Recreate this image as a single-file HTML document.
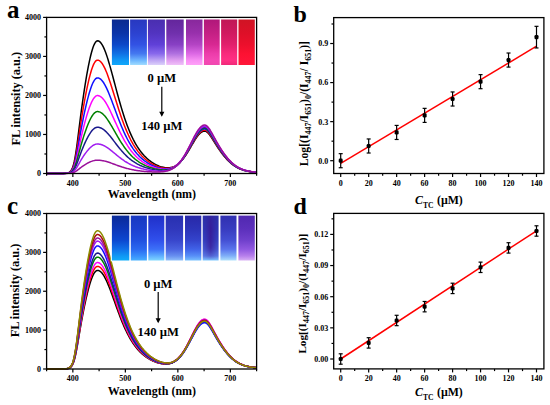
<!DOCTYPE html><html><head><meta charset="utf-8"><style>html,body{margin:0;padding:0;background:#fff}svg{display:block}text{font-family:"Liberation Serif",serif;font-weight:bold;fill:#000}</style></head><body>
<svg width="550" height="405" viewBox="0 0 550 405">
<rect width="550" height="405" fill="#fff"/>
<defs>
<linearGradient id="ga0" x1="0" y1="0" x2="0" y2="1"><stop offset="0" stop-color="#0a2a90"/><stop offset="0.3" stop-color="#0a34a8"/><stop offset="0.55" stop-color="#0c48c8"/><stop offset="0.75" stop-color="#1070e4"/><stop offset="0.9" stop-color="#1098f6"/><stop offset="1" stop-color="#10a8fa"/></linearGradient>
<linearGradient id="ga1" x1="0" y1="0" x2="0" y2="1"><stop offset="0" stop-color="#2838c0"/><stop offset="0.3" stop-color="#2c42d0"/><stop offset="0.55" stop-color="#3252e4"/><stop offset="0.75" stop-color="#4478f0"/><stop offset="0.9" stop-color="#70b8ff"/><stop offset="1" stop-color="#a0dcff"/></linearGradient>
<linearGradient id="ga2" x1="0" y1="0" x2="0" y2="1"><stop offset="0" stop-color="#4a2eb0"/><stop offset="0.3" stop-color="#5234c0"/><stop offset="0.55" stop-color="#6040d8"/><stop offset="0.75" stop-color="#8868ec"/><stop offset="0.9" stop-color="#c0a8f4"/><stop offset="1" stop-color="#dcd0fa"/></linearGradient>
<linearGradient id="ga3" x1="0" y1="0" x2="0" y2="1"><stop offset="0" stop-color="#64269c"/><stop offset="0.3" stop-color="#7030ac"/><stop offset="0.55" stop-color="#8840c4"/><stop offset="0.75" stop-color="#b070e0"/><stop offset="0.9" stop-color="#e0a0f0"/><stop offset="1" stop-color="#f0c0f8"/></linearGradient>
<linearGradient id="ga4" x1="0" y1="0" x2="0" y2="1"><stop offset="0" stop-color="#88289c"/><stop offset="0.3" stop-color="#9830ac"/><stop offset="0.55" stop-color="#b444c4"/><stop offset="0.75" stop-color="#dc68e4"/><stop offset="0.9" stop-color="#f890f4"/><stop offset="1" stop-color="#ffa0f8"/></linearGradient>
<linearGradient id="ga5" x1="0" y1="0" x2="0" y2="1"><stop offset="0" stop-color="#b0187a"/><stop offset="0.3" stop-color="#c42084"/><stop offset="0.55" stop-color="#d82892"/><stop offset="0.75" stop-color="#ec3caa"/><stop offset="0.9" stop-color="#f448b4"/><stop offset="1" stop-color="#f048b0"/></linearGradient>
<linearGradient id="ga6" x1="0" y1="0" x2="0" y2="1"><stop offset="0" stop-color="#c01856"/><stop offset="0.3" stop-color="#d01a60"/><stop offset="0.55" stop-color="#e2206c"/><stop offset="0.75" stop-color="#f82a7c"/><stop offset="0.9" stop-color="#ff3084"/><stop offset="1" stop-color="#f02878"/></linearGradient>
<linearGradient id="ga7" x1="0" y1="0" x2="0" y2="1"><stop offset="0" stop-color="#d01424"/><stop offset="0.3" stop-color="#de1028"/><stop offset="0.55" stop-color="#ec102c"/><stop offset="0.75" stop-color="#fc1232"/><stop offset="0.9" stop-color="#ff1438"/><stop offset="1" stop-color="#ff1838"/></linearGradient>
<linearGradient id="gc0" x1="0" y1="0" x2="0" y2="1"><stop offset="0" stop-color="#0a2a98"/><stop offset="0.3" stop-color="#0c36b8"/><stop offset="0.55" stop-color="#0c48d0"/><stop offset="0.75" stop-color="#1070e8"/><stop offset="0.9" stop-color="#1098f4"/><stop offset="1" stop-color="#10acfa"/></linearGradient>
<linearGradient id="gc1" x1="0" y1="0" x2="0" y2="1"><stop offset="0" stop-color="#1838c0"/><stop offset="0.3" stop-color="#1c40d0"/><stop offset="0.55" stop-color="#2050e0"/><stop offset="0.75" stop-color="#2a68f0"/><stop offset="0.9" stop-color="#3890fc"/><stop offset="1" stop-color="#48b0ff"/></linearGradient>
<linearGradient id="gc2" x1="0" y1="0" x2="0" y2="1"><stop offset="0" stop-color="#2030c8"/><stop offset="0.3" stop-color="#2840dc"/><stop offset="0.55" stop-color="#3050ec"/><stop offset="0.75" stop-color="#3c70f8"/><stop offset="0.9" stop-color="#60b0ff"/><stop offset="1" stop-color="#80d8ff"/></linearGradient>
<linearGradient id="gc3" x1="0" y1="0" x2="0" y2="1"><stop offset="0" stop-color="#2830b0"/><stop offset="0.3" stop-color="#3038bc"/><stop offset="0.55" stop-color="#3846cc"/><stop offset="0.75" stop-color="#4a62e0"/><stop offset="0.9" stop-color="#6890f0"/><stop offset="1" stop-color="#90c0fa"/></linearGradient>
<linearGradient id="gc4" x1="0" y1="0" x2="0" y2="1"><stop offset="0" stop-color="#2828a8"/><stop offset="0.3" stop-color="#2c34b8"/><stop offset="0.55" stop-color="#3444cc"/><stop offset="0.75" stop-color="#4062e8"/><stop offset="0.9" stop-color="#5890f8"/><stop offset="1" stop-color="#78c0ff"/></linearGradient>
<linearGradient id="gc5" x1="0" y1="0" x2="0" y2="1"><stop offset="0" stop-color="#2c30a8"/><stop offset="0.3" stop-color="#2e36b4"/><stop offset="0.55" stop-color="#3440c0"/><stop offset="0.75" stop-color="#4456d0"/><stop offset="0.9" stop-color="#5a78e4"/><stop offset="1" stop-color="#80c8ff"/></linearGradient>
<linearGradient id="gc6" x1="0" y1="0" x2="0" y2="1"><stop offset="0" stop-color="#3030b0"/><stop offset="0.3" stop-color="#383cc0"/><stop offset="0.55" stop-color="#4450d4"/><stop offset="0.75" stop-color="#5a74ec"/><stop offset="0.9" stop-color="#80b0f8"/><stop offset="1" stop-color="#b0e0fc"/></linearGradient>
<linearGradient id="gc7" x1="0" y1="0" x2="0" y2="1"><stop offset="0" stop-color="#5028b0"/><stop offset="0.3" stop-color="#5c30bc"/><stop offset="0.55" stop-color="#7040cc"/><stop offset="0.75" stop-color="#9058e0"/><stop offset="0.9" stop-color="#b880ec"/><stop offset="1" stop-color="#d8b0f4"/></linearGradient>
<linearGradient id="stripe" x1="0" y1="0" x2="1" y2="0"><stop offset="0" stop-color="#3a1a98" stop-opacity="0"/><stop offset="0.5" stop-color="#3a1490" stop-opacity="0.75"/><stop offset="1" stop-color="#3a1a98" stop-opacity="0"/></linearGradient>
<linearGradient id="vfade" x1="0" y1="0" x2="0" y2="1"><stop offset="0" stop-color="#fff" stop-opacity="0.6"/><stop offset="0.3" stop-color="#fff" stop-opacity="1"/><stop offset="0.7" stop-color="#fff" stop-opacity="0.9"/><stop offset="1" stop-color="#fff" stop-opacity="0"/></linearGradient>
</defs>
<path d="M46.6,173.45 L47.39,173.45 L48.18,173.45 L48.96,173.45 L49.75,173.45 L50.54,173.45 L51.33,173.45 L52.11,173.44 L52.9,173.44 L53.69,173.44 L54.48,173.44 L55.26,173.44 L56.05,173.44 L56.84,173.44 L57.62,173.44 L58.41,173.44 L59.2,173.44 L59.99,173.43 L60.78,173.43 L61.56,173.42 L62.35,173.41 L63.14,173.4 L63.92,173.37 L64.71,173.34 L65.5,173.29 L66.29,173.2 L67.08,173.08 L67.86,172.89 L68.65,172.6 L69.44,172.17 L70.22,171.54 L71.01,170.62 L71.8,169.32 L72.59,167.53 L73.38,165.12 L74.16,162 L74.95,158.11 L75.74,153.47 L76.53,148.16 L77.31,142.34 L78.1,136.19 L78.89,129.9 L79.68,123.6 L80.46,117.42 L81.25,111.4 L82.04,105.59 L82.83,99.98 L83.61,94.58 L84.4,89.38 L85.19,84.39 L85.97,79.59 L86.76,74.99 L87.55,70.61 L88.34,66.45 L89.12,62.54 L89.91,58.89 L90.7,55.52 L91.49,52.45 L92.28,49.7 L93.06,47.29 L93.85,45.24 L94.64,43.57 L95.43,42.28 L96.21,41.39 L97,40.91 L97.79,40.83 L98.58,41.02 L99.36,41.45 L100.15,42.11 L100.94,42.99 L101.72,44.09 L102.51,45.41 L103.3,46.92 L104.09,48.63 L104.88,50.52 L105.66,52.57 L106.45,54.78 L107.24,57.13 L108.03,59.6 L108.81,62.19 L109.6,64.87 L110.39,67.64 L111.18,70.47 L111.96,73.36 L112.75,76.28 L113.54,79.24 L114.33,82.2 L115.11,85.17 L115.9,88.14 L116.69,91.08 L117.47,94 L118.26,96.88 L119.05,99.72 L119.84,102.5 L120.62,105.24 L121.41,107.91 L122.2,110.52 L122.99,113.05 L123.78,115.52 L124.56,117.92 L125.35,120.24 L126.14,122.49 L126.93,124.66 L127.71,126.75 L128.5,128.77 L129.29,130.72 L130.08,132.59 L130.86,134.39 L131.65,136.11 L132.44,137.77 L133.22,139.37 L134.01,140.89 L134.8,142.35 L135.59,143.76 L136.38,145.1 L137.16,146.38 L137.95,147.61 L138.74,148.79 L139.53,149.91 L140.31,150.99 L141.1,152.02 L141.89,153 L142.68,153.94 L143.46,154.84 L144.25,155.7 L145.04,156.52 L145.83,157.31 L146.61,158.06 L147.4,158.77 L148.19,159.45 L148.97,160.1 L149.76,160.72 L150.55,161.31 L151.34,161.88 L152.12,162.41 L152.91,162.92 L153.7,163.4 L154.49,163.86 L155.28,164.29 L156.06,164.7 L156.85,165.08 L157.64,165.44 L158.43,165.78 L159.21,166.09 L160,166.38 L160.79,166.64 L161.58,166.88 L162.36,167.1 L163.15,167.28 L163.94,167.45 L164.72,167.58 L165.51,167.68 L166.3,167.76 L167.09,167.8 L167.88,167.81 L168.66,167.78 L169.45,167.71 L170.24,167.61 L171.03,167.47 L171.81,167.28 L172.6,167.05 L173.39,166.77 L174.18,166.45 L174.96,166.07 L175.75,165.64 L176.54,165.15 L177.32,164.61 L178.11,164.01 L178.9,163.35 L179.69,162.63 L180.47,161.85 L181.26,161.02 L182.05,160.12 L182.84,159.16 L183.62,158.15 L184.41,157.09 L185.2,155.97 L185.99,154.81 L186.78,153.6 L187.56,152.35 L188.35,151.07 L189.14,149.76 L189.93,148.43 L190.71,147.08 L191.5,145.73 L192.29,144.39 L193.07,143.05 L193.86,141.74 L194.65,140.45 L195.44,139.21 L196.22,138.02 L197.01,136.89 L197.8,135.84 L198.59,134.86 L199.38,133.99 L200.16,133.21 L200.95,132.54 L201.74,132 L202.53,131.58 L203.31,131.29 L204.1,131.14 L204.89,131.13 L205.68,131.32 L206.46,131.7 L207.25,132.28 L208.04,133.01 L208.82,133.9 L209.61,134.89 L210.4,135.99 L211.19,137.15 L211.97,138.35 L212.76,139.59 L213.55,140.85 L214.34,142.11 L215.12,143.36 L215.91,144.61 L216.7,145.83 L217.49,147.04 L218.28,148.22 L219.06,149.38 L219.85,150.52 L220.64,151.62 L221.43,152.7 L222.21,153.74 L223,154.76 L223.79,155.75 L224.57,156.7 L225.36,157.62 L226.15,158.51 L226.94,159.37 L227.72,160.19 L228.51,160.98 L229.3,161.74 L230.09,162.47 L230.88,163.16 L231.66,163.82 L232.45,164.44 L233.24,165.04 L234.03,165.6 L234.81,166.13 L235.6,166.63 L236.39,167.1 L237.18,167.55 L237.96,167.96 L238.75,168.35 L239.54,168.72 L240.32,169.05 L241.11,169.37 L241.9,169.66 L242.69,169.93 L243.47,170.19 L244.26,170.42 L245.05,170.63 L245.84,170.83 L246.62,171.01 L247.41,171.18 L248.2,171.33 L248.99,171.47 L249.78,171.6 L250.56,171.72 L251.35,171.83 L252.14,171.93 L252.93,172.02 L253.71,172.1 L254.5,172.18 L255.29,172.25 L256.08,172.31" fill="none" stroke="#000000" stroke-width="1.5" stroke-linejoin="round"/>
<path d="M46.6,173.45 L47.39,173.45 L48.18,173.45 L48.96,173.45 L49.75,173.45 L50.54,173.44 L51.33,173.44 L52.11,173.44 L52.9,173.44 L53.69,173.44 L54.48,173.44 L55.26,173.44 L56.05,173.44 L56.84,173.44 L57.62,173.44 L58.41,173.44 L59.2,173.43 L59.99,173.43 L60.78,173.43 L61.56,173.42 L62.35,173.41 L63.14,173.4 L63.92,173.38 L64.71,173.35 L65.5,173.31 L66.29,173.24 L67.08,173.13 L67.86,172.96 L68.65,172.72 L69.44,172.35 L70.22,171.81 L71.01,171.03 L71.8,169.92 L72.59,168.39 L73.38,166.33 L74.16,163.67 L74.95,160.34 L75.74,156.38 L76.53,151.84 L77.31,146.87 L78.1,141.62 L78.89,136.24 L79.68,130.86 L80.46,125.58 L81.25,120.44 L82.04,115.47 L82.83,110.68 L83.61,106.07 L84.4,101.63 L85.19,97.36 L85.97,93.26 L86.76,89.33 L87.55,85.59 L88.34,82.04 L89.12,78.69 L89.91,75.57 L90.7,72.69 L91.49,70.07 L92.28,67.72 L93.06,65.67 L93.85,63.92 L94.64,62.49 L95.43,61.39 L96.21,60.63 L97,60.21 L97.79,60.14 L98.58,60.31 L99.36,60.67 L100.15,61.24 L100.94,61.99 L101.72,62.93 L102.51,64.05 L103.3,65.35 L104.09,66.81 L104.88,68.42 L105.66,70.17 L106.45,72.06 L107.24,74.07 L108.03,76.18 L108.81,78.39 L109.6,80.68 L110.39,83.04 L111.18,85.46 L111.96,87.93 L112.75,90.43 L113.54,92.95 L114.33,95.48 L115.11,98.02 L115.9,100.55 L116.69,103.06 L117.47,105.56 L118.26,108.02 L119.05,110.44 L119.84,112.82 L120.62,115.15 L121.41,117.44 L122.2,119.66 L122.99,121.83 L123.78,123.94 L124.56,125.99 L125.35,127.97 L126.14,129.89 L126.93,131.74 L127.71,133.53 L128.5,135.25 L129.29,136.91 L130.08,138.51 L130.86,140.05 L131.65,141.52 L132.44,142.94 L133.22,144.3 L134.01,145.6 L134.8,146.85 L135.59,148.05 L136.38,149.19 L137.16,150.29 L137.95,151.34 L138.74,152.34 L139.53,153.3 L140.31,154.22 L141.1,155.1 L141.89,155.94 L142.68,156.74 L143.46,157.51 L144.25,158.24 L145.04,158.94 L145.83,159.61 L146.61,160.24 L147.4,160.85 L148.19,161.43 L148.97,161.99 L149.76,162.51 L150.55,163.02 L151.34,163.49 L152.12,163.95 L152.91,164.38 L153.7,164.79 L154.49,165.17 L155.28,165.54 L156.06,165.88 L156.85,166.2 L157.64,166.5 L158.43,166.78 L159.21,167.04 L160,167.27 L160.79,167.49 L161.58,167.68 L162.36,167.85 L163.15,167.99 L163.94,168.11 L164.72,168.2 L165.51,168.26 L166.3,168.3 L167.09,168.3 L167.88,168.28 L168.66,168.21 L169.45,168.12 L170.24,167.98 L171.03,167.8 L171.81,167.59 L172.6,167.32 L173.39,167.01 L174.18,166.66 L174.96,166.25 L175.75,165.78 L176.54,165.27 L177.32,164.69 L178.11,164.06 L178.9,163.37 L179.69,162.62 L180.47,161.81 L181.26,160.94 L182.05,160.01 L182.84,159.02 L183.62,157.97 L184.41,156.87 L185.2,155.72 L185.99,154.52 L186.78,153.27 L187.56,151.99 L188.35,150.67 L189.14,149.32 L189.93,147.95 L190.71,146.57 L191.5,145.19 L192.29,143.8 L193.07,142.43 L193.86,141.08 L194.65,139.77 L195.44,138.49 L196.22,137.27 L197.01,136.11 L197.8,135.03 L198.59,134.03 L199.38,133.13 L200.16,132.33 L200.95,131.65 L201.74,131.09 L202.53,130.66 L203.31,130.36 L204.1,130.21 L204.89,130.2 L205.68,130.38 L206.46,130.78 L207.25,131.36 L208.04,132.11 L208.82,133.01 L209.61,134.03 L210.4,135.15 L211.19,136.33 L211.97,137.57 L212.76,138.83 L213.55,140.12 L214.34,141.4 L215.12,142.69 L215.91,143.96 L216.7,145.21 L217.49,146.45 L218.28,147.66 L219.06,148.84 L219.85,150 L220.64,151.13 L221.43,152.23 L222.21,153.3 L223,154.34 L223.79,155.35 L224.57,156.32 L225.36,157.27 L226.15,158.17 L226.94,159.05 L227.72,159.89 L228.51,160.7 L229.3,161.48 L230.09,162.22 L230.88,162.93 L231.66,163.6 L232.45,164.24 L233.24,164.85 L234.03,165.42 L234.81,165.97 L235.6,166.48 L236.39,166.96 L237.18,167.41 L237.96,167.84 L238.75,168.24 L239.54,168.61 L240.32,168.95 L241.11,169.28 L241.9,169.58 L242.69,169.85 L243.47,170.11 L244.26,170.35 L245.05,170.57 L245.84,170.77 L246.62,170.96 L247.41,171.13 L248.2,171.28 L248.99,171.43 L249.78,171.56 L250.56,171.68 L251.35,171.79 L252.14,171.89 L252.93,171.99 L253.71,172.07 L254.5,172.15 L255.29,172.22 L256.08,172.29" fill="none" stroke="#ff0000" stroke-width="1.5" stroke-linejoin="round"/>
<path d="M46.6,173.45 L47.39,173.45 L48.18,173.45 L48.96,173.44 L49.75,173.44 L50.54,173.44 L51.33,173.44 L52.11,173.44 L52.9,173.44 L53.69,173.44 L54.48,173.44 L55.26,173.44 L56.05,173.44 L56.84,173.44 L57.62,173.44 L58.41,173.44 L59.2,173.43 L59.99,173.43 L60.78,173.43 L61.56,173.42 L62.35,173.42 L63.14,173.41 L63.92,173.39 L64.71,173.36 L65.5,173.32 L66.29,173.26 L67.08,173.17 L67.86,173.03 L68.65,172.83 L69.44,172.52 L70.22,172.06 L71.01,171.4 L71.8,170.47 L72.59,169.18 L73.38,167.44 L74.16,165.19 L74.95,162.39 L75.74,159.05 L76.53,155.22 L77.31,151.03 L78.1,146.6 L78.89,142.07 L79.68,137.53 L80.46,133.08 L81.25,128.74 L82.04,124.55 L82.83,120.51 L83.61,116.62 L84.4,112.88 L85.19,109.28 L85.97,105.82 L86.76,102.51 L87.55,99.36 L88.34,96.36 L89.12,93.54 L89.91,90.91 L90.7,88.48 L91.49,86.27 L92.28,84.29 L93.06,82.56 L93.85,81.08 L94.64,79.87 L95.43,78.95 L96.21,78.31 L97,77.96 L97.79,77.9 L98.58,78.04 L99.36,78.34 L100.15,78.82 L100.94,79.45 L101.72,80.25 L102.51,81.19 L103.3,82.28 L104.09,83.51 L104.88,84.87 L105.66,86.35 L106.45,87.94 L107.24,89.63 L108.03,91.42 L108.81,93.28 L109.6,95.21 L110.39,97.2 L111.18,99.24 L111.96,101.32 L112.75,103.43 L113.54,105.55 L114.33,107.69 L115.11,109.83 L115.9,111.96 L116.69,114.08 L117.47,116.18 L118.26,118.25 L119.05,120.3 L119.84,122.3 L120.62,124.27 L121.41,126.19 L122.2,128.07 L122.99,129.9 L123.78,131.68 L124.56,133.4 L125.35,135.07 L126.14,136.69 L126.93,138.25 L127.71,139.76 L128.5,141.21 L129.29,142.61 L130.08,143.96 L130.86,145.25 L131.65,146.49 L132.44,147.69 L133.22,148.83 L134.01,149.93 L134.8,150.98 L135.59,151.99 L136.38,152.95 L137.16,153.88 L137.95,154.76 L138.74,155.61 L139.53,156.42 L140.31,157.19 L141.1,157.93 L141.89,158.63 L142.68,159.31 L143.46,159.95 L144.25,160.57 L145.04,161.16 L145.83,161.72 L146.61,162.25 L147.4,162.76 L148.19,163.25 L148.97,163.72 L149.76,164.16 L150.55,164.58 L151.34,164.98 L152.12,165.36 L152.91,165.72 L153.7,166.06 L154.49,166.38 L155.28,166.68 L156.06,166.96 L156.85,167.22 L157.64,167.47 L158.43,167.7 L159.21,167.9 L160,168.09 L160.79,168.26 L161.58,168.4 L162.36,168.53 L163.15,168.63 L163.94,168.71 L164.72,168.76 L165.51,168.79 L166.3,168.79 L167.09,168.76 L167.88,168.69 L168.66,168.6 L169.45,168.47 L170.24,168.3 L171.03,168.09 L171.81,167.84 L172.6,167.55 L173.39,167.2 L174.18,166.81 L174.96,166.37 L175.75,165.88 L176.54,165.33 L177.32,164.72 L178.11,164.05 L178.9,163.33 L179.69,162.54 L180.47,161.7 L181.26,160.79 L182.05,159.82 L182.84,158.79 L183.62,157.7 L184.41,156.56 L185.2,155.37 L185.99,154.12 L186.78,152.84 L187.56,151.51 L188.35,150.14 L189.14,148.75 L189.93,147.34 L190.71,145.92 L191.5,144.49 L192.29,143.06 L193.07,141.64 L193.86,140.25 L194.65,138.9 L195.44,137.58 L196.22,136.32 L197.01,135.13 L197.8,134.01 L198.59,132.99 L199.38,132.05 L200.16,131.23 L200.95,130.53 L201.74,129.95 L202.53,129.51 L203.31,129.2 L204.1,129.04 L204.89,129.03 L205.68,129.22 L206.46,129.62 L207.25,130.22 L208.04,130.99 L208.82,131.91 L209.61,132.96 L210.4,134.1 L211.19,135.32 L211.97,136.59 L212.76,137.89 L213.55,139.21 L214.34,140.53 L215.12,141.85 L215.91,143.15 L216.7,144.44 L217.49,145.71 L218.28,146.95 L219.06,148.17 L219.85,149.36 L220.64,150.52 L221.43,151.65 L222.21,152.75 L223,153.82 L223.79,154.85 L224.57,155.85 L225.36,156.82 L226.15,157.76 L226.94,158.66 L227.72,159.52 L228.51,160.35 L229.3,161.15 L230.09,161.91 L230.88,162.64 L231.66,163.33 L232.45,163.99 L233.24,164.61 L234.03,165.2 L234.81,165.76 L235.6,166.29 L236.39,166.78 L237.18,167.25 L237.96,167.68 L238.75,168.09 L239.54,168.47 L240.32,168.83 L241.11,169.16 L241.9,169.47 L242.69,169.75 L243.47,170.02 L244.26,170.26 L245.05,170.49 L245.84,170.7 L246.62,170.89 L247.41,171.06 L248.2,171.22 L248.99,171.37 L249.78,171.51 L250.56,171.63 L251.35,171.75 L252.14,171.85 L252.93,171.95 L253.71,172.03 L254.5,172.11 L255.29,172.19 L256.08,172.25" fill="none" stroke="#1010ff" stroke-width="1.5" stroke-linejoin="round"/>
<path d="M46.6,173.44 L47.39,173.44 L48.18,173.44 L48.96,173.44 L49.75,173.44 L50.54,173.44 L51.33,173.44 L52.11,173.44 L52.9,173.44 L53.69,173.44 L54.48,173.44 L55.26,173.44 L56.05,173.43 L56.84,173.43 L57.62,173.43 L58.41,173.43 L59.2,173.43 L59.99,173.43 L60.78,173.42 L61.56,173.42 L62.35,173.41 L63.14,173.41 L63.92,173.39 L64.71,173.37 L65.5,173.34 L66.29,173.29 L67.08,173.22 L67.86,173.1 L68.65,172.93 L69.44,172.68 L70.22,172.31 L71.01,171.77 L71.8,171.01 L72.59,169.96 L73.38,168.54 L74.16,166.71 L74.95,164.43 L75.74,161.7 L76.53,158.59 L77.31,155.17 L78.1,151.56 L78.89,147.87 L79.68,144.17 L80.46,140.54 L81.25,137.01 L82.04,133.6 L82.83,130.3 L83.61,127.14 L84.4,124.08 L85.19,121.15 L85.97,118.33 L86.76,115.64 L87.55,113.06 L88.34,110.62 L89.12,108.33 L89.91,106.18 L90.7,104.2 L91.49,102.4 L92.28,100.79 L93.06,99.37 L93.85,98.17 L94.64,97.19 L95.43,96.43 L96.21,95.91 L97,95.62 L97.79,95.57 L98.58,95.69 L99.36,95.94 L100.15,96.32 L100.94,96.84 L101.72,97.49 L102.51,98.26 L103.3,99.14 L104.09,100.15 L104.88,101.25 L105.66,102.46 L106.45,103.75 L107.24,105.13 L108.03,106.58 L108.81,108.1 L109.6,109.67 L110.39,111.29 L111.18,112.95 L111.96,114.65 L112.75,116.36 L113.54,118.1 L114.33,119.84 L115.11,121.58 L115.9,123.31 L116.69,125.04 L117.47,126.75 L118.26,128.44 L119.05,130.1 L119.84,131.74 L120.62,133.34 L121.41,134.91 L122.2,136.44 L122.99,137.92 L123.78,139.37 L124.56,140.77 L125.35,142.13 L126.14,143.45 L126.93,144.72 L127.71,145.95 L128.5,147.13 L129.29,148.27 L130.08,149.37 L130.86,150.42 L131.65,151.43 L132.44,152.4 L133.22,153.34 L134.01,154.23 L134.8,155.08 L135.59,155.9 L136.38,156.69 L137.16,157.44 L137.95,158.16 L138.74,158.84 L139.53,159.5 L140.31,160.13 L141.1,160.73 L141.89,161.3 L142.68,161.85 L143.46,162.37 L144.25,162.87 L145.04,163.35 L145.83,163.8 L146.61,164.24 L147.4,164.65 L148.19,165.04 L148.97,165.42 L149.76,165.77 L150.55,166.11 L151.34,166.43 L152.12,166.74 L152.91,167.02 L153.7,167.29 L154.49,167.55 L155.28,167.79 L156.06,168.01 L156.85,168.21 L157.64,168.4 L158.43,168.57 L159.21,168.73 L160,168.86 L160.79,168.98 L161.58,169.08 L162.36,169.16 L163.15,169.21 L163.94,169.25 L164.72,169.25 L165.51,169.24 L166.3,169.19 L167.09,169.12 L167.88,169.01 L168.66,168.87 L169.45,168.69 L170.24,168.48 L171.03,168.22 L171.81,167.93 L172.6,167.58 L173.39,167.19 L174.18,166.74 L174.96,166.25 L175.75,165.69 L176.54,165.08 L177.32,164.41 L178.11,163.68 L178.9,162.88 L179.69,162.03 L180.47,161.1 L181.26,160.11 L182.05,159.06 L182.84,157.95 L183.62,156.77 L184.41,155.54 L185.2,154.25 L185.99,152.9 L186.78,151.51 L187.56,150.08 L188.35,148.61 L189.14,147.12 L189.93,145.6 L190.71,144.06 L191.5,142.52 L192.29,140.99 L193.07,139.47 L193.86,137.97 L194.65,136.52 L195.44,135.1 L196.22,133.75 L197.01,132.47 L197.8,131.27 L198.59,130.17 L199.38,129.17 L200.16,128.28 L200.95,127.53 L201.74,126.9 L202.53,126.43 L203.31,126.1 L204.1,125.92 L204.89,125.9 L205.68,126.11 L206.46,126.53 L207.25,127.17 L208.04,128 L208.82,128.99 L209.61,130.11 L210.4,131.33 L211.19,132.63 L211.97,133.99 L212.76,135.38 L213.55,136.79 L214.34,138.21 L215.12,139.62 L215.91,141.01 L216.7,142.39 L217.49,143.75 L218.28,145.08 L219.06,146.38 L219.85,147.66 L220.64,148.9 L221.43,150.11 L222.21,151.28 L223,152.43 L223.79,153.53 L224.57,154.61 L225.36,155.64 L226.15,156.64 L226.94,157.61 L227.72,158.53 L228.51,159.42 L229.3,160.28 L230.09,161.09 L230.88,161.87 L231.66,162.61 L232.45,163.31 L233.24,163.98 L234.03,164.61 L234.81,165.21 L235.6,165.78 L236.39,166.31 L237.18,166.81 L237.96,167.27 L238.75,167.71 L239.54,168.12 L240.32,168.5 L241.11,168.85 L241.9,169.18 L242.69,169.49 L243.47,169.77 L244.26,170.03 L245.05,170.27 L245.84,170.5 L246.62,170.7 L247.41,170.89 L248.2,171.06 L248.99,171.22 L249.78,171.37 L250.56,171.5 L251.35,171.62 L252.14,171.73 L252.93,171.84 L253.71,171.93 L254.5,172.01 L255.29,172.09 L256.08,172.16" fill="none" stroke="#ff00ff" stroke-width="1.5" stroke-linejoin="round"/>
<path d="M46.6,173.45 L47.39,173.44 L48.18,173.44 L48.96,173.44 L49.75,173.44 L50.54,173.44 L51.33,173.44 L52.11,173.44 L52.9,173.44 L53.69,173.44 L54.48,173.44 L55.26,173.44 L56.05,173.44 L56.84,173.44 L57.62,173.44 L58.41,173.43 L59.2,173.43 L59.99,173.43 L60.78,173.43 L61.56,173.43 L62.35,173.42 L63.14,173.41 L63.92,173.4 L64.71,173.39 L65.5,173.36 L66.29,173.32 L67.08,173.26 L67.86,173.17 L68.65,173.04 L69.44,172.84 L70.22,172.54 L71.01,172.11 L71.8,171.51 L72.59,170.67 L73.38,169.55 L74.16,168.09 L74.95,166.28 L75.74,164.12 L76.53,161.64 L77.31,158.93 L78.1,156.06 L78.89,153.12 L79.68,150.19 L80.46,147.3 L81.25,144.5 L82.04,141.78 L82.83,139.17 L83.61,136.65 L84.4,134.23 L85.19,131.9 L85.97,129.66 L86.76,127.51 L87.55,125.47 L88.34,123.53 L89.12,121.71 L89.91,120 L90.7,118.43 L91.49,117 L92.28,115.71 L93.06,114.59 L93.85,113.64 L94.64,112.85 L95.43,112.25 L96.21,111.84 L97,111.61 L97.79,111.57 L98.58,111.66 L99.36,111.86 L100.15,112.17 L100.94,112.58 L101.72,113.09 L102.51,113.7 L103.3,114.41 L104.09,115.2 L104.88,116.08 L105.66,117.04 L106.45,118.07 L107.24,119.16 L108.03,120.31 L108.81,121.52 L109.6,122.77 L110.39,124.06 L111.18,125.37 L111.96,126.72 L112.75,128.08 L113.54,129.46 L114.33,130.84 L115.11,132.22 L115.9,133.6 L116.69,134.97 L117.47,136.33 L118.26,137.67 L119.05,138.99 L119.84,140.29 L120.62,141.56 L121.41,142.81 L122.2,144.02 L122.99,145.2 L123.78,146.35 L124.56,147.47 L125.35,148.55 L126.14,149.59 L126.93,150.6 L127.71,151.58 L128.5,152.52 L129.29,153.42 L130.08,154.29 L130.86,155.13 L131.65,155.93 L132.44,156.7 L133.22,157.44 L134.01,158.15 L134.8,158.83 L135.59,159.48 L136.38,160.1 L137.16,160.69 L137.95,161.26 L138.74,161.81 L139.53,162.33 L140.31,162.83 L141.1,163.3 L141.89,163.76 L142.68,164.19 L143.46,164.6 L144.25,165 L145.04,165.38 L145.83,165.73 L146.61,166.08 L147.4,166.4 L148.19,166.71 L148.97,167.01 L149.76,167.29 L150.55,167.55 L151.34,167.81 L152.12,168.04 L152.91,168.27 L153.7,168.48 L154.49,168.68 L155.28,168.86 L156.06,169.03 L156.85,169.19 L157.64,169.33 L158.43,169.46 L159.21,169.57 L160,169.67 L160.79,169.75 L161.58,169.81 L162.36,169.86 L163.15,169.88 L163.94,169.89 L164.72,169.87 L165.51,169.83 L166.3,169.77 L167.09,169.68 L167.88,169.56 L168.66,169.41 L169.45,169.22 L170.24,169 L171.03,168.74 L171.81,168.44 L172.6,168.1 L173.39,167.71 L174.18,167.28 L174.96,166.79 L175.75,166.25 L176.54,165.66 L177.32,165.01 L178.11,164.31 L178.9,163.54 L179.69,162.72 L180.47,161.83 L181.26,160.88 L182.05,159.87 L182.84,158.81 L183.62,157.68 L184.41,156.5 L185.2,155.27 L185.99,153.99 L186.78,152.66 L187.56,151.29 L188.35,149.89 L189.14,148.46 L189.93,147.01 L190.71,145.55 L191.5,144.08 L192.29,142.62 L193.07,141.17 L193.86,139.75 L194.65,138.36 L195.44,137.01 L196.22,135.73 L197.01,134.5 L197.8,133.36 L198.59,132.31 L199.38,131.36 L200.16,130.51 L200.95,129.79 L201.74,129.2 L202.53,128.74 L203.31,128.43 L204.1,128.26 L204.89,128.25 L205.68,128.44 L206.46,128.84 L207.25,129.45 L208.04,130.23 L208.82,131.17 L209.61,132.24 L210.4,133.4 L211.19,134.64 L211.97,135.93 L212.76,137.25 L213.55,138.59 L214.34,139.94 L215.12,141.28 L215.91,142.61 L216.7,143.92 L217.49,145.21 L218.28,146.47 L219.06,147.71 L219.85,148.92 L220.64,150.1 L221.43,151.25 L222.21,152.37 L223,153.46 L223.79,154.51 L224.57,155.53 L225.36,156.52 L226.15,157.47 L226.94,158.39 L227.72,159.27 L228.51,160.11 L229.3,160.92 L230.09,161.7 L230.88,162.44 L231.66,163.14 L232.45,163.81 L233.24,164.45 L234.03,165.05 L234.81,165.62 L235.6,166.15 L236.39,166.66 L237.18,167.13 L237.96,167.58 L238.75,167.99 L239.54,168.38 L240.32,168.75 L241.11,169.08 L241.9,169.4 L242.69,169.69 L243.47,169.95 L244.26,170.2 L245.05,170.43 L245.84,170.64 L246.62,170.84 L247.41,171.02 L248.2,171.18 L248.99,171.33 L249.78,171.47 L250.56,171.6 L251.35,171.71 L252.14,171.82 L252.93,171.92 L253.71,172.01 L254.5,172.09 L255.29,172.16 L256.08,172.23" fill="none" stroke="#008000" stroke-width="1.5" stroke-linejoin="round"/>
<path d="M46.6,173.44 L47.39,173.44 L48.18,173.44 L48.96,173.44 L49.75,173.44 L50.54,173.44 L51.33,173.44 L52.11,173.44 L52.9,173.44 L53.69,173.44 L54.48,173.44 L55.26,173.44 L56.05,173.44 L56.84,173.44 L57.62,173.44 L58.41,173.43 L59.2,173.43 L59.99,173.43 L60.78,173.43 L61.56,173.43 L62.35,173.42 L63.14,173.42 L63.92,173.41 L64.71,173.4 L65.5,173.38 L66.29,173.35 L67.08,173.3 L67.86,173.24 L68.65,173.13 L69.44,172.98 L70.22,172.76 L71.01,172.45 L71.8,171.99 L72.59,171.37 L73.38,170.53 L74.16,169.44 L74.95,168.09 L75.74,166.48 L76.53,164.63 L77.31,162.6 L78.1,160.46 L78.89,158.27 L79.68,156.08 L80.46,153.93 L81.25,151.83 L82.04,149.81 L82.83,147.86 L83.61,145.98 L84.4,144.17 L85.19,142.43 L85.97,140.76 L86.76,139.16 L87.55,137.63 L88.34,136.19 L89.12,134.83 L89.91,133.55 L90.7,132.38 L91.49,131.31 L92.28,130.35 L93.06,129.51 L93.85,128.8 L94.64,128.22 L95.43,127.77 L96.21,127.46 L97,127.29 L97.79,127.26 L98.58,127.33 L99.36,127.47 L100.15,127.7 L100.94,128.01 L101.72,128.39 L102.51,128.84 L103.3,129.37 L104.09,129.96 L104.88,130.62 L105.66,131.33 L106.45,132.1 L107.24,132.91 L108.03,133.77 L108.81,134.67 L109.6,135.6 L110.39,136.56 L111.18,137.55 L111.96,138.55 L112.75,139.57 L113.54,140.59 L114.33,141.62 L115.11,142.65 L115.9,143.68 L116.69,144.71 L117.47,145.72 L118.26,146.72 L119.05,147.7 L119.84,148.67 L120.62,149.62 L121.41,150.55 L122.2,151.45 L122.99,152.33 L123.78,153.19 L124.56,154.02 L125.35,154.82 L126.14,155.6 L126.93,156.35 L127.71,157.08 L128.5,157.78 L129.29,158.45 L130.08,159.1 L130.86,159.72 L131.65,160.32 L132.44,160.89 L133.22,161.44 L134.01,161.97 L134.8,162.48 L135.59,162.96 L136.38,163.42 L137.16,163.87 L137.95,164.29 L138.74,164.69 L139.53,165.08 L140.31,165.45 L141.1,165.8 L141.89,166.14 L142.68,166.46 L143.46,166.77 L144.25,167.06 L145.04,167.34 L145.83,167.6 L146.61,167.85 L147.4,168.09 L148.19,168.32 L148.97,168.54 L149.76,168.74 L150.55,168.94 L151.34,169.12 L152.12,169.29 L152.91,169.45 L153.7,169.6 L154.49,169.74 L155.28,169.87 L156.06,169.99 L156.85,170.09 L157.64,170.19 L158.43,170.27 L159.21,170.34 L160,170.39 L160.79,170.43 L161.58,170.46 L162.36,170.47 L163.15,170.46 L163.94,170.43 L164.72,170.38 L165.51,170.31 L166.3,170.21 L167.09,170.09 L167.88,169.94 L168.66,169.76 L169.45,169.55 L170.24,169.3 L171.03,169.01 L171.81,168.69 L172.6,168.32 L173.39,167.91 L174.18,167.45 L174.96,166.93 L175.75,166.37 L176.54,165.75 L177.32,165.08 L178.11,164.35 L178.9,163.56 L179.69,162.7 L180.47,161.79 L181.26,160.81 L182.05,159.78 L182.84,158.68 L183.62,157.53 L184.41,156.32 L185.2,155.06 L185.99,153.75 L186.78,152.39 L187.56,150.99 L188.35,149.56 L189.14,148.1 L189.93,146.62 L190.71,145.13 L191.5,143.63 L192.29,142.14 L193.07,140.66 L193.86,139.2 L194.65,137.79 L195.44,136.41 L196.22,135.1 L197.01,133.85 L197.8,132.69 L198.59,131.61 L199.38,130.64 L200.16,129.78 L200.95,129.05 L201.74,128.44 L202.53,127.98 L203.31,127.65 L204.1,127.48 L204.89,127.46 L205.68,127.66 L206.46,128.07 L207.25,128.69 L208.04,129.48 L208.82,130.44 L209.61,131.52 L210.4,132.7 L211.19,133.96 L211.97,135.27 L212.76,136.62 L213.55,137.98 L214.34,139.35 L215.12,140.71 L215.91,142.07 L216.7,143.4 L217.49,144.71 L218.28,146 L219.06,147.26 L219.85,148.49 L220.64,149.69 L221.43,150.87 L222.21,152 L223,153.11 L223.79,154.18 L224.57,155.22 L225.36,156.22 L226.15,157.19 L226.94,158.12 L227.72,159.02 L228.51,159.88 L229.3,160.7 L230.09,161.49 L230.88,162.24 L231.66,162.96 L232.45,163.64 L233.24,164.29 L234.03,164.9 L234.81,165.48 L235.6,166.03 L236.39,166.54 L237.18,167.02 L237.96,167.47 L238.75,167.9 L239.54,168.29 L240.32,168.66 L241.11,169 L241.9,169.32 L242.69,169.62 L243.47,169.89 L244.26,170.15 L245.05,170.38 L245.84,170.59 L246.62,170.79 L247.41,170.97 L248.2,171.14 L248.99,171.3 L249.78,171.44 L250.56,171.56 L251.35,171.68 L252.14,171.79 L252.93,171.89 L253.71,171.98 L254.5,172.06 L255.29,172.14 L256.08,172.21" fill="none" stroke="#1a1a8c" stroke-width="1.5" stroke-linejoin="round"/>
<path d="M46.6,173.44 L47.39,173.44 L48.18,173.44 L48.96,173.44 L49.75,173.44 L50.54,173.44 L51.33,173.44 L52.11,173.44 L52.9,173.44 L53.69,173.44 L54.48,173.44 L55.26,173.44 L56.05,173.44 L56.84,173.43 L57.62,173.43 L58.41,173.43 L59.2,173.43 L59.99,173.43 L60.78,173.43 L61.56,173.43 L62.35,173.42 L63.14,173.42 L63.92,173.41 L64.71,173.41 L65.5,173.39 L66.29,173.37 L67.08,173.35 L67.86,173.3 L68.65,173.24 L69.44,173.14 L70.22,173 L71.01,172.8 L71.8,172.51 L72.59,172.11 L73.38,171.58 L74.16,170.89 L74.95,170.02 L75.74,168.99 L76.53,167.82 L77.31,166.53 L78.1,165.16 L78.89,163.77 L79.68,162.37 L80.46,161 L81.25,159.66 L82.04,158.37 L82.83,157.13 L83.61,155.93 L84.4,154.78 L85.19,153.67 L85.97,152.61 L86.76,151.59 L87.55,150.62 L88.34,149.69 L89.12,148.83 L89.91,148.01 L90.7,147.27 L91.49,146.58 L92.28,145.97 L93.06,145.44 L93.85,144.98 L94.64,144.61 L95.43,144.33 L96.21,144.13 L97,144.02 L97.79,144 L98.58,144.04 L99.36,144.13 L100.15,144.28 L100.94,144.47 L101.72,144.72 L102.51,145.01 L103.3,145.34 L104.09,145.72 L104.88,146.13 L105.66,146.59 L106.45,147.07 L107.24,147.59 L108.03,148.14 L108.81,148.71 L109.6,149.3 L110.39,149.91 L111.18,150.54 L111.96,151.18 L112.75,151.82 L113.54,152.48 L114.33,153.13 L115.11,153.79 L115.9,154.44 L116.69,155.09 L117.47,155.73 L118.26,156.37 L119.05,157 L119.84,157.61 L120.62,158.21 L121.41,158.8 L122.2,159.38 L122.99,159.94 L123.78,160.48 L124.56,161.01 L125.35,161.52 L126.14,162.01 L126.93,162.49 L127.71,162.95 L128.5,163.4 L129.29,163.82 L130.08,164.23 L130.86,164.63 L131.65,165.01 L132.44,165.37 L133.22,165.72 L134.01,166.05 L134.8,166.37 L135.59,166.68 L136.38,166.97 L137.16,167.25 L137.95,167.52 L138.74,167.77 L139.53,168.02 L140.31,168.25 L141.1,168.47 L141.89,168.68 L142.68,168.88 L143.46,169.07 L144.25,169.26 L145.04,169.43 L145.83,169.59 L146.61,169.75 L147.4,169.9 L148.19,170.04 L148.97,170.17 L149.76,170.29 L150.55,170.41 L151.34,170.52 L152.12,170.62 L152.91,170.72 L153.7,170.8 L154.49,170.88 L155.28,170.95 L156.06,171.01 L156.85,171.06 L157.64,171.1 L158.43,171.13 L159.21,171.16 L160,171.16 L160.79,171.16 L161.58,171.14 L162.36,171.11 L163.15,171.06 L163.94,171 L164.72,170.91 L165.51,170.81 L166.3,170.68 L167.09,170.52 L167.88,170.34 L168.66,170.13 L169.45,169.88 L170.24,169.61 L171.03,169.29 L171.81,168.94 L172.6,168.54 L173.39,168.1 L174.18,167.61 L174.96,167.07 L175.75,166.48 L176.54,165.83 L177.32,165.13 L178.11,164.36 L178.9,163.54 L179.69,162.66 L180.47,161.71 L181.26,160.7 L182.05,159.64 L182.84,158.51 L183.62,157.32 L184.41,156.07 L185.2,154.78 L185.99,153.43 L186.78,152.03 L187.56,150.6 L188.35,149.13 L189.14,147.63 L189.93,146.11 L190.71,144.58 L191.5,143.05 L192.29,141.52 L193.07,140.01 L193.86,138.52 L194.65,137.06 L195.44,135.66 L196.22,134.31 L197.01,133.04 L197.8,131.84 L198.59,130.74 L199.38,129.75 L200.16,128.87 L200.95,128.11 L201.74,127.49 L202.53,127.02 L203.31,126.69 L204.1,126.51 L204.89,126.49 L205.68,126.68 L206.46,127.1 L207.25,127.73 L208.04,128.55 L208.82,129.52 L209.61,130.63 L210.4,131.83 L211.19,133.12 L211.97,134.46 L212.76,135.83 L213.55,137.22 L214.34,138.62 L215.12,140.01 L215.91,141.39 L216.7,142.76 L217.49,144.1 L218.28,145.41 L219.06,146.7 L219.85,147.96 L220.64,149.18 L221.43,150.38 L222.21,151.54 L223,152.67 L223.79,153.77 L224.57,154.83 L225.36,155.85 L226.15,156.84 L226.94,157.79 L227.72,158.71 L228.51,159.59 L229.3,160.43 L230.09,161.23 L230.88,162 L231.66,162.74 L232.45,163.43 L233.24,164.09 L234.03,164.72 L234.81,165.31 L235.6,165.87 L236.39,166.39 L237.18,166.88 L237.96,167.35 L238.75,167.78 L239.54,168.18 L240.32,168.56 L241.11,168.91 L241.9,169.23 L242.69,169.54 L243.47,169.82 L244.26,170.07 L245.05,170.31 L245.84,170.53 L246.62,170.73 L247.41,170.92 L248.2,171.09 L248.99,171.25 L249.78,171.39 L250.56,171.52 L251.35,171.64 L252.14,171.75 L252.93,171.85 L253.71,171.95 L254.5,172.03 L255.29,172.11 L256.08,172.18" fill="none" stroke="#a01cf0" stroke-width="1.5" stroke-linejoin="round"/>
<path d="M46.6,173.44 L47.39,173.44 L48.18,173.44 L48.96,173.44 L49.75,173.44 L50.54,173.44 L51.33,173.44 L52.11,173.44 L52.9,173.44 L53.69,173.44 L54.48,173.43 L55.26,173.43 L56.05,173.43 L56.84,173.43 L57.62,173.43 L58.41,173.43 L59.2,173.43 L59.99,173.43 L60.78,173.43 L61.56,173.43 L62.35,173.43 L63.14,173.42 L63.92,173.42 L64.71,173.42 L65.5,173.41 L66.29,173.4 L67.08,173.39 L67.86,173.37 L68.65,173.34 L69.44,173.29 L70.22,173.23 L71.01,173.14 L71.8,173.01 L72.59,172.83 L73.38,172.59 L74.16,172.28 L74.95,171.89 L75.74,171.43 L76.53,170.9 L77.31,170.32 L78.1,169.71 L78.89,169.08 L79.68,168.45 L80.46,167.84 L81.25,167.24 L82.04,166.66 L82.83,166.1 L83.61,165.56 L84.4,165.04 L85.19,164.55 L85.97,164.07 L86.76,163.61 L87.55,163.17 L88.34,162.76 L89.12,162.37 L89.91,162 L90.7,161.67 L91.49,161.36 L92.28,161.09 L93.06,160.85 L93.85,160.64 L94.64,160.47 L95.43,160.34 L96.21,160.25 L97,160.2 L97.79,160.19 L98.58,160.21 L99.36,160.25 L100.15,160.32 L100.94,160.4 L101.72,160.51 L102.51,160.64 L103.3,160.79 L104.09,160.95 L104.88,161.14 L105.66,161.34 L106.45,161.56 L107.24,161.79 L108.03,162.03 L108.81,162.29 L109.6,162.55 L110.39,162.83 L111.18,163.11 L111.96,163.39 L112.75,163.68 L113.54,163.97 L114.33,164.26 L115.11,164.55 L115.9,164.85 L116.69,165.14 L117.47,165.42 L118.26,165.71 L119.05,165.99 L119.84,166.26 L120.62,166.53 L121.41,166.79 L122.2,167.05 L122.99,167.29 L123.78,167.54 L124.56,167.77 L125.35,168 L126.14,168.22 L126.93,168.43 L127.71,168.63 L128.5,168.83 L129.29,169.02 L130.08,169.2 L130.86,169.37 L131.65,169.54 L132.44,169.7 L133.22,169.85 L134.01,170 L134.8,170.14 L135.59,170.27 L136.38,170.4 L137.16,170.52 L137.95,170.64 L138.74,170.75 L139.53,170.85 L140.31,170.95 L141.1,171.05 L141.89,171.14 L142.68,171.22 L143.46,171.3 L144.25,171.38 L145.04,171.45 L145.83,171.52 L146.61,171.58 L147.4,171.64 L148.19,171.69 L148.97,171.74 L149.76,171.79 L150.55,171.83 L151.34,171.87 L152.12,171.9 L152.91,171.93 L153.7,171.95 L154.49,171.97 L155.28,171.98 L156.06,171.99 L156.85,171.99 L157.64,171.98 L158.43,171.96 L159.21,171.94 L160,171.9 L160.79,171.85 L161.58,171.8 L162.36,171.72 L163.15,171.64 L163.94,171.53 L164.72,171.41 L165.51,171.27 L166.3,171.1 L167.09,170.91 L167.88,170.7 L168.66,170.45 L169.45,170.18 L170.24,169.87 L171.03,169.52 L171.81,169.13 L172.6,168.7 L173.39,168.23 L174.18,167.7 L174.96,167.13 L175.75,166.5 L176.54,165.82 L177.32,165.08 L178.11,164.28 L178.9,163.42 L179.69,162.49 L180.47,161.51 L181.26,160.46 L182.05,159.34 L182.84,158.17 L183.62,156.93 L184.41,155.64 L185.2,154.29 L185.99,152.89 L186.78,151.45 L187.56,149.96 L188.35,148.44 L189.14,146.89 L189.93,145.31 L190.71,143.73 L191.5,142.14 L192.29,140.56 L193.07,138.99 L193.86,137.45 L194.65,135.95 L195.44,134.5 L196.22,133.1 L197.01,131.78 L197.8,130.55 L198.59,129.41 L199.38,128.38 L200.16,127.47 L200.95,126.69 L201.74,126.05 L202.53,125.55 L203.31,125.21 L204.1,125.03 L204.89,125.01 L205.68,125.21 L206.46,125.64 L207.25,126.29 L208.04,127.12 L208.82,128.13 L209.61,129.27 L210.4,130.51 L211.19,131.84 L211.97,133.22 L212.76,134.64 L213.55,136.07 L214.34,137.51 L215.12,138.95 L215.91,140.37 L216.7,141.78 L217.49,143.16 L218.28,144.52 L219.06,145.85 L219.85,147.15 L220.64,148.41 L221.43,149.64 L222.21,150.84 L223,152.01 L223.79,153.14 L224.57,154.23 L225.36,155.29 L226.15,156.31 L226.94,157.29 L227.72,158.24 L228.51,159.14 L229.3,160.01 L230.09,160.84 L230.88,161.64 L231.66,162.39 L232.45,163.11 L233.24,163.79 L234.03,164.44 L234.81,165.05 L235.6,165.62 L236.39,166.16 L237.18,166.67 L237.96,167.15 L238.75,167.6 L239.54,168.01 L240.32,168.4 L241.11,168.76 L241.9,169.1 L242.69,169.41 L243.47,169.7 L244.26,169.96 L245.05,170.21 L245.84,170.44 L246.62,170.65 L247.41,170.84 L248.2,171.01 L248.99,171.18 L249.78,171.32 L250.56,171.46 L251.35,171.58 L252.14,171.7 L252.93,171.8 L253.71,171.9 L254.5,171.98 L255.29,172.06 L256.08,172.14" fill="none" stroke="#9a109a" stroke-width="1.5" stroke-linejoin="round"/>
<rect x="110.8" y="18.7" width="145" height="47.1" fill="#fff"/>
<rect x="111.9" y="19.5" width="17.1" height="45.5" fill="url(#ga0)"/>
<rect x="130.1" y="19.5" width="16.8" height="45.5" fill="url(#ga1)"/>
<rect x="147.9" y="19.5" width="17" height="45.5" fill="url(#ga2)"/>
<rect x="166.3" y="19.5" width="17.4" height="45.5" fill="url(#ga3)"/>
<rect x="186" y="19.5" width="16.5" height="45.5" fill="url(#ga4)"/>
<rect x="203.9" y="19.5" width="15.8" height="45.5" fill="url(#ga5)"/>
<rect x="221.1" y="19.5" width="16.1" height="45.5" fill="url(#ga6)"/>
<rect x="238.5" y="19.5" width="16.3" height="45.5" fill="url(#ga7)"/>
<rect x="46.6" y="17.4" width="210" height="156.1" fill="none" stroke="#000" stroke-width="1.3"/>
<line x1="46.6" y1="173.5" x2="46.6" y2="175.7" stroke="#000" stroke-width="1.2"/>
<line x1="72.85" y1="173.5" x2="72.85" y2="177" stroke="#000" stroke-width="1.2"/>
<text x="72.85" y="185.8" font-size="8" text-anchor="middle">400</text>
<line x1="99.1" y1="173.5" x2="99.1" y2="175.7" stroke="#000" stroke-width="1.2"/>
<line x1="125.35" y1="173.5" x2="125.35" y2="177" stroke="#000" stroke-width="1.2"/>
<text x="125.35" y="185.8" font-size="8" text-anchor="middle">500</text>
<line x1="151.6" y1="173.5" x2="151.6" y2="175.7" stroke="#000" stroke-width="1.2"/>
<line x1="177.85" y1="173.5" x2="177.85" y2="177" stroke="#000" stroke-width="1.2"/>
<text x="177.85" y="185.8" font-size="8" text-anchor="middle">600</text>
<line x1="204.1" y1="173.5" x2="204.1" y2="175.7" stroke="#000" stroke-width="1.2"/>
<line x1="230.35" y1="173.5" x2="230.35" y2="177" stroke="#000" stroke-width="1.2"/>
<text x="230.35" y="185.8" font-size="8" text-anchor="middle">700</text>
<line x1="256.6" y1="173.5" x2="256.6" y2="175.7" stroke="#000" stroke-width="1.2"/>
<line x1="43.1" y1="173.5" x2="46.6" y2="173.5" stroke="#000" stroke-width="1.2"/>
<text x="41" y="176.4" font-size="8" text-anchor="end">0</text>
<line x1="44.4" y1="153.99" x2="46.6" y2="153.99" stroke="#000" stroke-width="1.2"/>
<line x1="43.1" y1="134.47" x2="46.6" y2="134.47" stroke="#000" stroke-width="1.2"/>
<text x="41" y="137.38" font-size="8" text-anchor="end">1000</text>
<line x1="44.4" y1="114.96" x2="46.6" y2="114.96" stroke="#000" stroke-width="1.2"/>
<line x1="43.1" y1="95.45" x2="46.6" y2="95.45" stroke="#000" stroke-width="1.2"/>
<text x="41" y="98.35" font-size="8" text-anchor="end">2000</text>
<line x1="44.4" y1="75.94" x2="46.6" y2="75.94" stroke="#000" stroke-width="1.2"/>
<line x1="43.1" y1="56.43" x2="46.6" y2="56.43" stroke="#000" stroke-width="1.2"/>
<text x="41" y="59.33" font-size="8" text-anchor="end">3000</text>
<line x1="44.4" y1="36.91" x2="46.6" y2="36.91" stroke="#000" stroke-width="1.2"/>
<line x1="43.1" y1="17.4" x2="46.6" y2="17.4" stroke="#000" stroke-width="1.2"/>
<text x="41" y="20.3" font-size="8" text-anchor="end">4000</text>
<text x="151.9" y="198.4" font-size="12" text-anchor="middle">Wavelength (nm)</text>
<text transform="translate(19.9,98.7) rotate(-90)" font-size="12.3" text-anchor="middle">FL intensity (a.u.)</text>
<text x="161.8" y="82.3" font-size="12.6" text-anchor="middle">0 µM</text>
<line x1="161.8" y1="86.8" x2="161.8" y2="115.3" stroke="#000" stroke-width="1.2"/>
<path d="M159.2,111.8 L164.4,111.8 L161.8,116.8 Z" fill="#000"/>
<text x="161.8" y="129.8" font-size="12.6" text-anchor="middle">140 µM</text>
<path d="M46.6,368.94 L47.39,368.94 L48.18,368.94 L48.96,368.94 L49.75,368.94 L50.54,368.94 L51.33,368.94 L52.11,368.94 L52.9,368.94 L53.69,368.94 L54.48,368.94 L55.26,368.94 L56.05,368.93 L56.84,368.93 L57.62,368.93 L58.41,368.93 L59.2,368.93 L59.99,368.93 L60.78,368.92 L61.56,368.92 L62.35,368.91 L63.14,368.9 L63.92,368.88 L64.71,368.86 L65.5,368.82 L66.29,368.75 L67.08,368.66 L67.86,368.52 L68.65,368.3 L69.44,367.98 L70.22,367.51 L71.01,366.83 L71.8,365.87 L72.59,364.54 L73.38,362.75 L74.16,360.43 L74.95,357.54 L75.74,354.09 L76.53,350.15 L77.31,345.82 L78.1,341.25 L78.89,336.57 L79.68,331.9 L80.46,327.3 L81.25,322.83 L82.04,318.51 L82.83,314.34 L83.61,310.33 L84.4,306.47 L85.19,302.76 L85.97,299.19 L86.76,295.78 L87.55,292.52 L88.34,289.43 L89.12,286.52 L89.91,283.81 L90.7,281.3 L91.49,279.02 L92.28,276.98 L93.06,275.19 L93.85,273.67 L94.64,272.42 L95.43,271.47 L96.21,270.81 L97,270.45 L97.79,270.38 L98.58,270.53 L99.36,270.84 L100.15,271.33 L100.94,271.99 L101.72,272.81 L102.51,273.78 L103.3,274.91 L104.09,276.17 L104.88,277.58 L105.66,279.1 L106.45,280.74 L107.24,282.49 L108.03,284.33 L108.81,286.25 L109.6,288.24 L110.39,290.29 L111.18,292.4 L111.96,294.54 L112.75,296.71 L113.54,298.91 L114.33,301.11 L115.11,303.32 L115.9,305.51 L116.69,307.7 L117.47,309.87 L118.26,312.01 L119.05,314.11 L119.84,316.18 L120.62,318.21 L121.41,320.2 L122.2,322.13 L122.99,324.02 L123.78,325.85 L124.56,327.63 L125.35,329.35 L126.14,331.02 L126.93,332.63 L127.71,334.19 L128.5,335.68 L129.29,337.13 L130.08,338.52 L130.86,339.85 L131.65,341.13 L132.44,342.36 L133.22,343.54 L134.01,344.68 L134.8,345.76 L135.59,346.8 L136.38,347.8 L137.16,348.75 L137.95,349.66 L138.74,350.53 L139.53,351.36 L140.31,352.16 L141.1,352.92 L141.89,353.65 L142.68,354.35 L143.46,355.01 L144.25,355.65 L145.04,356.25 L145.83,356.83 L146.61,357.38 L147.4,357.91 L148.19,358.41 L148.97,358.89 L149.76,359.34 L150.55,359.78 L151.34,360.19 L152.12,360.58 L152.91,360.95 L153.7,361.3 L154.49,361.63 L155.28,361.94 L156.06,362.23 L156.85,362.5 L157.64,362.75 L158.43,362.98 L159.21,363.19 L160,363.38 L160.79,363.55 L161.58,363.7 L162.36,363.82 L163.15,363.92 L163.94,364 L164.72,364.05 L165.51,364.07 L166.3,364.06 L167.09,364.02 L167.88,363.94 L168.66,363.84 L169.45,363.69 L170.24,363.5 L171.03,363.27 L171.81,363 L172.6,362.68 L173.39,362.31 L174.18,361.88 L174.96,361.4 L175.75,360.87 L176.54,360.27 L177.32,359.62 L178.11,358.9 L178.9,358.11 L179.69,357.27 L180.47,356.35 L181.26,355.37 L182.05,354.33 L182.84,353.22 L183.62,352.05 L184.41,350.82 L185.2,349.54 L185.99,348.2 L186.78,346.81 L187.56,345.38 L188.35,343.92 L189.14,342.42 L189.93,340.9 L190.71,339.37 L191.5,337.83 L192.29,336.29 L193.07,334.77 L193.86,333.28 L194.65,331.82 L195.44,330.4 L196.22,329.05 L197.01,327.77 L197.8,326.57 L198.59,325.46 L199.38,324.46 L200.16,323.57 L200.95,322.82 L201.74,322.19 L202.53,321.72 L203.31,321.39 L204.1,321.21 L204.89,321.2 L205.68,321.4 L206.46,321.83 L207.25,322.48 L208.04,323.31 L208.82,324.3 L209.61,325.43 L210.4,326.66 L211.19,327.96 L211.97,329.33 L212.76,330.72 L213.55,332.14 L214.34,333.56 L215.12,334.98 L215.91,336.38 L216.7,337.77 L217.49,339.13 L218.28,340.46 L219.06,341.77 L219.85,343.05 L220.64,344.3 L221.43,345.51 L222.21,346.69 L223,347.84 L223.79,348.95 L224.57,350.03 L225.36,351.07 L226.15,352.08 L226.94,353.04 L227.72,353.97 L228.51,354.87 L229.3,355.72 L230.09,356.54 L230.88,357.32 L231.66,358.07 L232.45,358.77 L233.24,359.44 L234.03,360.08 L234.81,360.68 L235.6,361.25 L236.39,361.78 L237.18,362.28 L237.96,362.75 L238.75,363.19 L239.54,363.6 L240.32,363.98 L241.11,364.34 L241.9,364.67 L242.69,364.97 L243.47,365.26 L244.26,365.52 L245.05,365.76 L245.84,365.99 L246.62,366.19 L247.41,366.38 L248.2,366.55 L248.99,366.71 L249.78,366.86 L250.56,366.99 L251.35,367.11 L252.14,367.23 L252.93,367.33 L253.71,367.42 L254.5,367.51 L255.29,367.59 L256.08,367.66" fill="none" stroke="#000000" stroke-width="1.5" stroke-linejoin="round"/>
<path d="M46.6,368.94 L47.39,368.94 L48.18,368.94 L48.96,368.94 L49.75,368.94 L50.54,368.94 L51.33,368.94 L52.11,368.94 L52.9,368.93 L53.69,368.93 L54.48,368.93 L55.26,368.93 L56.05,368.93 L56.84,368.93 L57.62,368.93 L58.41,368.93 L59.2,368.93 L59.99,368.92 L60.78,368.92 L61.56,368.92 L62.35,368.91 L63.14,368.9 L63.92,368.88 L64.71,368.85 L65.5,368.81 L66.29,368.74 L67.08,368.65 L67.86,368.5 L68.65,368.27 L69.44,367.94 L70.22,367.45 L71.01,366.75 L71.8,365.74 L72.59,364.36 L73.38,362.49 L74.16,360.08 L74.95,357.07 L75.74,353.48 L76.53,349.38 L77.31,344.88 L78.1,340.13 L78.89,335.26 L79.68,330.39 L80.46,325.61 L81.25,320.95 L82.04,316.46 L82.83,312.12 L83.61,307.95 L84.4,303.93 L85.19,300.07 L85.97,296.36 L86.76,292.8 L87.55,289.41 L88.34,286.2 L89.12,283.17 L89.91,280.35 L90.7,277.74 L91.49,275.37 L92.28,273.24 L93.06,271.38 L93.85,269.8 L94.64,268.5 L95.43,267.51 L96.21,266.82 L97,266.44 L97.79,266.38 L98.58,266.53 L99.36,266.86 L100.15,267.37 L100.94,268.05 L101.72,268.9 L102.51,269.92 L103.3,271.09 L104.09,272.41 L104.88,273.86 L105.66,275.45 L106.45,277.16 L107.24,278.97 L108.03,280.89 L108.81,282.89 L109.6,284.96 L110.39,287.1 L111.18,289.29 L111.96,291.52 L112.75,293.78 L113.54,296.06 L114.33,298.35 L115.11,300.65 L115.9,302.94 L116.69,305.21 L117.47,307.47 L118.26,309.69 L119.05,311.89 L119.84,314.04 L120.62,316.15 L121.41,318.22 L122.2,320.23 L122.99,322.19 L123.78,324.1 L124.56,325.95 L125.35,327.74 L126.14,329.48 L126.93,331.15 L127.71,332.77 L128.5,334.33 L129.29,335.83 L130.08,337.28 L130.86,338.67 L131.65,340 L132.44,341.28 L133.22,342.51 L134.01,343.69 L134.8,344.82 L135.59,345.9 L136.38,346.94 L137.16,347.93 L137.95,348.87 L138.74,349.78 L139.53,350.65 L140.31,351.48 L141.1,352.27 L141.89,353.03 L142.68,353.75 L143.46,354.45 L144.25,355.11 L145.04,355.74 L145.83,356.34 L146.61,356.91 L147.4,357.46 L148.19,357.98 L148.97,358.48 L149.76,358.95 L150.55,359.4 L151.34,359.83 L152.12,360.24 L152.91,360.62 L153.7,360.99 L154.49,361.33 L155.28,361.65 L156.06,361.95 L156.85,362.24 L157.64,362.5 L158.43,362.74 L159.21,362.96 L160,363.16 L160.79,363.33 L161.58,363.49 L162.36,363.62 L163.15,363.72 L163.94,363.8 L164.72,363.85 L165.51,363.87 L166.3,363.87 L167.09,363.82 L167.88,363.75 L168.66,363.64 L169.45,363.49 L170.24,363.29 L171.03,363.05 L171.81,362.77 L172.6,362.44 L173.39,362.05 L174.18,361.61 L174.96,361.12 L175.75,360.56 L176.54,359.95 L177.32,359.27 L178.11,358.52 L178.9,357.71 L179.69,356.83 L180.47,355.89 L181.26,354.87 L182.05,353.79 L182.84,352.64 L183.62,351.43 L184.41,350.16 L185.2,348.82 L185.99,347.44 L186.78,346 L187.56,344.52 L188.35,343 L189.14,341.44 L189.93,339.87 L190.71,338.28 L191.5,336.69 L192.29,335.09 L193.07,333.52 L193.86,331.97 L194.65,330.45 L195.44,328.99 L196.22,327.59 L197.01,326.26 L197.8,325.01 L198.59,323.87 L199.38,322.83 L200.16,321.91 L200.95,321.13 L201.74,320.48 L202.53,319.99 L203.31,319.65 L204.1,319.47 L204.89,319.45 L205.68,319.66 L206.46,320.11 L207.25,320.78 L208.04,321.64 L208.82,322.67 L209.61,323.83 L210.4,325.11 L211.19,326.46 L211.97,327.88 L212.76,329.32 L213.55,330.79 L214.34,332.26 L215.12,333.73 L215.91,335.19 L216.7,336.62 L217.49,338.03 L218.28,339.42 L219.06,340.78 L219.85,342.1 L220.64,343.39 L221.43,344.65 L222.21,345.88 L223,347.07 L223.79,348.22 L224.57,349.34 L225.36,350.42 L226.15,351.46 L226.94,352.46 L227.72,353.42 L228.51,354.35 L229.3,355.24 L230.09,356.09 L230.88,356.9 L231.66,357.67 L232.45,358.4 L233.24,359.09 L234.03,359.75 L234.81,360.38 L235.6,360.96 L236.39,361.51 L237.18,362.03 L237.96,362.52 L238.75,362.98 L239.54,363.4 L240.32,363.8 L241.11,364.17 L241.9,364.51 L242.69,364.83 L243.47,365.12 L244.26,365.39 L245.05,365.64 L245.84,365.88 L246.62,366.09 L247.41,366.28 L248.2,366.46 L248.99,366.63 L249.78,366.78 L250.56,366.92 L251.35,367.05 L252.14,367.16 L252.93,367.27 L253.71,367.37 L254.5,367.45 L255.29,367.53 L256.08,367.61" fill="none" stroke="#ff0000" stroke-width="1.5" stroke-linejoin="round"/>
<path d="M46.6,368.94 L47.39,368.94 L48.18,368.94 L48.96,368.94 L49.75,368.94 L50.54,368.94 L51.33,368.94 L52.11,368.94 L52.9,368.93 L53.69,368.93 L54.48,368.93 L55.26,368.93 L56.05,368.93 L56.84,368.93 L57.62,368.93 L58.41,368.93 L59.2,368.93 L59.99,368.92 L60.78,368.92 L61.56,368.91 L62.35,368.91 L63.14,368.89 L63.92,368.88 L64.71,368.85 L65.5,368.8 L66.29,368.74 L67.08,368.64 L67.86,368.48 L68.65,368.25 L69.44,367.9 L70.22,367.4 L71.01,366.66 L71.8,365.62 L72.59,364.18 L73.38,362.25 L74.16,359.75 L74.95,356.63 L75.74,352.9 L76.53,348.64 L77.31,343.97 L78.1,339.03 L78.89,333.98 L79.68,328.93 L80.46,323.96 L81.25,319.14 L82.04,314.47 L82.83,309.97 L83.61,305.64 L84.4,301.47 L85.19,297.46 L85.97,293.6 L86.76,289.92 L87.55,286.4 L88.34,283.06 L89.12,279.92 L89.91,276.99 L90.7,274.28 L91.49,271.82 L92.28,269.61 L93.06,267.68 L93.85,266.04 L94.64,264.69 L95.43,263.66 L96.21,262.95 L97,262.56 L97.79,262.49 L98.58,262.65 L99.36,262.99 L100.15,263.52 L100.94,264.23 L101.72,265.11 L102.51,266.16 L103.3,267.38 L104.09,268.75 L104.88,270.26 L105.66,271.91 L106.45,273.68 L107.24,275.57 L108.03,277.55 L108.81,279.63 L109.6,281.78 L110.39,284 L111.18,286.27 L111.96,288.58 L112.75,290.93 L113.54,293.3 L114.33,295.68 L115.11,298.06 L115.9,300.44 L116.69,302.8 L117.47,305.14 L118.26,307.45 L119.05,309.73 L119.84,311.96 L120.62,314.15 L121.41,316.3 L122.2,318.39 L122.99,320.42 L123.78,322.4 L124.56,324.32 L125.35,326.19 L126.14,327.99 L126.93,329.73 L127.71,331.41 L128.5,333.03 L129.29,334.58 L130.08,336.08 L130.86,337.53 L131.65,338.91 L132.44,340.24 L133.22,341.52 L134.01,342.74 L134.8,343.91 L135.59,345.03 L136.38,346.11 L137.16,347.14 L137.95,348.12 L138.74,349.06 L139.53,349.96 L140.31,350.83 L141.1,351.65 L141.89,352.44 L142.68,353.19 L143.46,353.91 L144.25,354.59 L145.04,355.25 L145.83,355.87 L146.61,356.47 L147.4,357.04 L148.19,357.58 L148.97,358.1 L149.76,358.59 L150.55,359.06 L151.34,359.5 L152.12,359.92 L152.91,360.32 L153.7,360.7 L154.49,361.06 L155.28,361.39 L156.06,361.71 L156.85,362 L157.64,362.28 L158.43,362.53 L159.21,362.76 L160,362.97 L160.79,363.15 L161.58,363.32 L162.36,363.45 L163.15,363.57 L163.94,363.65 L164.72,363.71 L165.51,363.74 L166.3,363.74 L167.09,363.7 L167.88,363.63 L168.66,363.52 L169.45,363.37 L170.24,363.18 L171.03,362.95 L171.81,362.67 L172.6,362.34 L173.39,361.95 L174.18,361.51 L174.96,361.02 L175.75,360.46 L176.54,359.85 L177.32,359.16 L178.11,358.42 L178.9,357.6 L179.69,356.72 L180.47,355.77 L181.26,354.75 L182.05,353.67 L182.84,352.51 L183.62,351.3 L184.41,350.02 L185.2,348.68 L185.99,347.28 L186.78,345.84 L187.56,344.35 L188.35,342.82 L189.14,341.26 L189.93,339.68 L190.71,338.08 L191.5,336.47 L192.29,334.87 L193.07,333.29 L193.86,331.73 L194.65,330.21 L195.44,328.73 L196.22,327.32 L197.01,325.98 L197.8,324.73 L198.59,323.58 L199.38,322.54 L200.16,321.61 L200.95,320.82 L201.74,320.18 L202.53,319.68 L203.31,319.34 L204.1,319.15 L204.89,319.14 L205.68,319.35 L206.46,319.8 L207.25,320.47 L208.04,321.34 L208.82,322.38 L209.61,323.55 L210.4,324.83 L211.19,326.2 L211.97,327.62 L212.76,329.08 L213.55,330.55 L214.34,332.03 L215.12,333.51 L215.91,334.98 L216.7,336.42 L217.49,337.84 L218.28,339.24 L219.06,340.6 L219.85,341.93 L220.64,343.24 L221.43,344.5 L222.21,345.73 L223,346.93 L223.79,348.09 L224.57,349.21 L225.36,350.3 L226.15,351.35 L226.94,352.36 L227.72,353.33 L228.51,354.26 L229.3,355.15 L230.09,356.01 L230.88,356.82 L231.66,357.6 L232.45,358.33 L233.24,359.03 L234.03,359.7 L234.81,360.32 L235.6,360.91 L236.39,361.47 L237.18,361.99 L237.96,362.48 L238.75,362.94 L239.54,363.37 L240.32,363.76 L241.11,364.14 L241.9,364.48 L242.69,364.8 L243.47,365.1 L244.26,365.37 L245.05,365.62 L245.84,365.86 L246.62,366.07 L247.41,366.27 L248.2,366.45 L248.99,366.61 L249.78,366.77 L250.56,366.91 L251.35,367.03 L252.14,367.15 L252.93,367.26 L253.71,367.35 L254.5,367.44 L255.29,367.53 L256.08,367.6" fill="none" stroke="#ff00ff" stroke-width="1.5" stroke-linejoin="round"/>
<path d="M46.6,368.94 L47.39,368.94 L48.18,368.94 L48.96,368.94 L49.75,368.94 L50.54,368.94 L51.33,368.94 L52.11,368.94 L52.9,368.94 L53.69,368.94 L54.48,368.94 L55.26,368.94 L56.05,368.93 L56.84,368.93 L57.62,368.93 L58.41,368.93 L59.2,368.93 L59.99,368.93 L60.78,368.92 L61.56,368.92 L62.35,368.91 L63.14,368.9 L63.92,368.88 L64.71,368.85 L65.5,368.8 L66.29,368.73 L67.08,368.62 L67.86,368.46 L68.65,368.22 L69.44,367.86 L70.22,367.32 L71.01,366.55 L71.8,365.46 L72.59,363.95 L73.38,361.92 L74.16,359.29 L74.95,356.01 L75.74,352.1 L76.53,347.63 L77.31,342.72 L78.1,337.54 L78.89,332.23 L79.68,326.93 L80.46,321.72 L81.25,316.65 L82.04,311.75 L82.83,307.02 L83.61,302.47 L84.4,298.09 L85.19,293.88 L85.97,289.84 L86.76,285.96 L87.55,282.27 L88.34,278.77 L89.12,275.47 L89.91,272.39 L90.7,269.55 L91.49,266.96 L92.28,264.64 L93.06,262.62 L93.85,260.89 L94.64,259.48 L95.43,258.39 L96.21,257.65 L97,257.24 L97.79,257.17 L98.58,257.33 L99.36,257.69 L100.15,258.24 L100.94,258.99 L101.72,259.92 L102.51,261.02 L103.3,262.3 L104.09,263.74 L104.88,265.33 L105.66,267.06 L106.45,268.92 L107.24,270.9 L108.03,272.98 L108.81,275.16 L109.6,277.42 L110.39,279.75 L111.18,282.14 L111.96,284.57 L112.75,287.04 L113.54,289.52 L114.33,292.02 L115.11,294.53 L115.9,297.02 L116.69,299.5 L117.47,301.96 L118.26,304.38 L119.05,306.78 L119.84,309.12 L120.62,311.43 L121.41,313.68 L122.2,315.87 L122.99,318.01 L123.78,320.09 L124.56,322.11 L125.35,324.06 L126.14,325.96 L126.93,327.78 L127.71,329.55 L128.5,331.25 L129.29,332.89 L130.08,334.46 L130.86,335.98 L131.65,337.43 L132.44,338.83 L133.22,340.17 L134.01,341.45 L134.8,342.68 L135.59,343.86 L136.38,344.99 L137.16,346.07 L137.95,347.11 L138.74,348.1 L139.53,349.04 L140.31,349.95 L141.1,350.81 L141.89,351.64 L142.68,352.43 L143.46,353.19 L144.25,353.91 L145.04,354.6 L145.83,355.26 L146.61,355.88 L147.4,356.48 L148.19,357.05 L148.97,357.6 L149.76,358.12 L150.55,358.61 L151.34,359.08 L152.12,359.52 L152.91,359.95 L153.7,360.35 L154.49,360.72 L155.28,361.08 L156.06,361.42 L156.85,361.73 L157.64,362.02 L158.43,362.29 L159.21,362.54 L160,362.76 L160.79,362.97 L161.58,363.15 L162.36,363.3 L163.15,363.43 L163.94,363.54 L164.72,363.61 L165.51,363.66 L166.3,363.68 L167.09,363.66 L167.88,363.61 L168.66,363.52 L169.45,363.4 L170.24,363.23 L171.03,363.02 L171.81,362.77 L172.6,362.47 L173.39,362.11 L174.18,361.71 L174.96,361.25 L175.75,360.73 L176.54,360.15 L177.32,359.51 L178.11,358.81 L178.9,358.05 L179.69,357.22 L180.47,356.32 L181.26,355.36 L182.05,354.33 L182.84,353.24 L183.62,352.09 L184.41,350.88 L185.2,349.61 L185.99,348.29 L186.78,346.92 L187.56,345.51 L188.35,344.06 L189.14,342.58 L189.93,341.08 L190.71,339.56 L191.5,338.04 L192.29,336.52 L193.07,335.02 L193.86,333.54 L194.65,332.09 L195.44,330.69 L196.22,329.35 L197.01,328.08 L197.8,326.89 L198.59,325.8 L199.38,324.81 L200.16,323.93 L200.95,323.18 L201.74,322.57 L202.53,322.1 L203.31,321.77 L204.1,321.6 L204.89,321.59 L205.68,321.79 L206.46,322.22 L207.25,322.86 L208.04,323.68 L208.82,324.67 L209.61,325.79 L210.4,327.01 L211.19,328.3 L211.97,329.65 L212.76,331.04 L213.55,332.44 L214.34,333.85 L215.12,335.26 L215.91,336.65 L216.7,338.02 L217.49,339.38 L218.28,340.7 L219.06,342 L219.85,343.27 L220.64,344.5 L221.43,345.71 L222.21,346.88 L223,348.02 L223.79,349.12 L224.57,350.19 L225.36,351.22 L226.15,352.22 L226.94,353.18 L227.72,354.1 L228.51,354.99 L229.3,355.83 L230.09,356.65 L230.88,357.42 L231.66,358.16 L232.45,358.86 L233.24,359.52 L234.03,360.15 L234.81,360.75 L235.6,361.31 L236.39,361.84 L237.18,362.34 L237.96,362.8 L238.75,363.24 L239.54,363.64 L240.32,364.02 L241.11,364.38 L241.9,364.7 L242.69,365.01 L243.47,365.29 L244.26,365.55 L245.05,365.79 L245.84,366.01 L246.62,366.21 L247.41,366.4 L248.2,366.57 L248.99,366.73 L249.78,366.88 L250.56,367.01 L251.35,367.13 L252.14,367.24 L252.93,367.34 L253.71,367.44 L254.5,367.52 L255.29,367.6 L256.08,367.67" fill="none" stroke="#008000" stroke-width="1.5" stroke-linejoin="round"/>
<path d="M46.6,368.94 L47.39,368.94 L48.18,368.94 L48.96,368.94 L49.75,368.94 L50.54,368.94 L51.33,368.94 L52.11,368.94 L52.9,368.94 L53.69,368.94 L54.48,368.94 L55.26,368.94 L56.05,368.94 L56.84,368.93 L57.62,368.93 L58.41,368.93 L59.2,368.93 L59.99,368.93 L60.78,368.92 L61.56,368.92 L62.35,368.91 L63.14,368.9 L63.92,368.88 L64.71,368.84 L65.5,368.8 L66.29,368.73 L67.08,368.61 L67.86,368.45 L68.65,368.19 L69.44,367.82 L70.22,367.27 L71.01,366.47 L71.8,365.34 L72.59,363.77 L73.38,361.67 L74.16,358.94 L74.95,355.54 L75.74,351.49 L76.53,346.85 L77.31,341.77 L78.1,336.39 L78.89,330.9 L79.68,325.4 L80.46,319.99 L81.25,314.74 L82.04,309.66 L82.83,304.76 L83.61,300.04 L84.4,295.5 L85.19,291.14 L85.97,286.95 L86.76,282.93 L87.55,279.1 L88.34,275.47 L89.12,272.05 L89.91,268.86 L90.7,265.92 L91.49,263.24 L92.28,260.84 L93.06,258.73 L93.85,256.94 L94.64,255.48 L95.43,254.36 L96.21,253.58 L97,253.16 L97.79,253.09 L98.58,253.25 L99.36,253.63 L100.15,254.2 L100.94,254.97 L101.72,255.94 L102.51,257.08 L103.3,258.41 L104.09,259.9 L104.88,261.55 L105.66,263.34 L106.45,265.27 L107.24,267.32 L108.03,269.48 L108.81,271.74 L109.6,274.08 L110.39,276.5 L111.18,278.97 L111.96,281.49 L112.75,284.05 L113.54,286.63 L114.33,289.22 L115.11,291.81 L115.9,294.4 L116.69,296.97 L117.47,299.52 L118.26,302.03 L119.05,304.51 L119.84,306.94 L120.62,309.33 L121.41,311.66 L122.2,313.94 L122.99,316.16 L123.78,318.31 L124.56,320.4 L125.35,322.43 L126.14,324.39 L126.93,326.29 L127.71,328.12 L128.5,329.88 L129.29,331.58 L130.08,333.21 L130.86,334.78 L131.65,336.29 L132.44,337.74 L133.22,339.13 L134.01,340.46 L134.8,341.73 L135.59,342.96 L136.38,344.13 L137.16,345.25 L137.95,346.32 L138.74,347.35 L139.53,348.33 L140.31,349.27 L141.1,350.17 L141.89,351.02 L142.68,351.84 L143.46,352.63 L144.25,353.37 L145.04,354.09 L145.83,354.77 L146.61,355.42 L147.4,356.04 L148.19,356.64 L148.97,357.2 L149.76,357.74 L150.55,358.25 L151.34,358.74 L152.12,359.2 L152.91,359.64 L153.7,360.06 L154.49,360.45 L155.28,360.82 L156.06,361.17 L156.85,361.5 L157.64,361.8 L158.43,362.08 L159.21,362.34 L160,362.58 L160.79,362.79 L161.58,362.98 L162.36,363.15 L163.15,363.29 L163.94,363.4 L164.72,363.49 L165.51,363.54 L166.3,363.57 L167.09,363.56 L167.88,363.52 L168.66,363.44 L169.45,363.33 L170.24,363.17 L171.03,362.97 L171.81,362.72 L172.6,362.43 L173.39,362.08 L174.18,361.69 L174.96,361.23 L175.75,360.73 L176.54,360.16 L177.32,359.53 L178.11,358.84 L178.9,358.08 L179.69,357.26 L180.47,356.38 L181.26,355.43 L182.05,354.41 L182.84,353.33 L183.62,352.19 L184.41,350.99 L185.2,349.74 L185.99,348.43 L186.78,347.07 L187.56,345.67 L188.35,344.24 L189.14,342.77 L189.93,341.29 L190.71,339.78 L191.5,338.28 L192.29,336.77 L193.07,335.28 L193.86,333.82 L194.65,332.38 L195.44,331 L196.22,329.67 L197.01,328.41 L197.8,327.23 L198.59,326.15 L199.38,325.17 L200.16,324.3 L200.95,323.56 L201.74,322.95 L202.53,322.48 L203.31,322.16 L204.1,321.99 L204.89,321.98 L205.68,322.18 L206.46,322.6 L207.25,323.24 L208.04,324.06 L208.82,325.03 L209.61,326.14 L210.4,327.35 L211.19,328.64 L211.97,329.98 L212.76,331.35 L213.55,332.75 L214.34,334.14 L215.12,335.54 L215.91,336.92 L216.7,338.28 L217.49,339.62 L218.28,340.94 L219.06,342.22 L219.85,343.48 L220.64,344.71 L221.43,345.9 L222.21,347.06 L223,348.19 L223.79,349.29 L224.57,350.35 L225.36,351.37 L226.15,352.36 L226.94,353.31 L227.72,354.22 L228.51,355.1 L229.3,355.94 L230.09,356.75 L230.88,357.52 L231.66,358.25 L232.45,358.94 L233.24,359.6 L234.03,360.23 L234.81,360.82 L235.6,361.37 L236.39,361.9 L237.18,362.39 L237.96,362.85 L238.75,363.28 L239.54,363.69 L240.32,364.06 L241.11,364.41 L241.9,364.74 L242.69,365.04 L243.47,365.32 L244.26,365.58 L245.05,365.82 L245.84,366.04 L246.62,366.24 L247.41,366.42 L248.2,366.59 L248.99,366.75 L249.78,366.89 L250.56,367.03 L251.35,367.15 L252.14,367.26 L252.93,367.36 L253.71,367.45 L254.5,367.53 L255.29,367.61 L256.08,367.68" fill="none" stroke="#1a1a8c" stroke-width="1.5" stroke-linejoin="round"/>
<path d="M46.6,368.94 L47.39,368.94 L48.18,368.94 L48.96,368.94 L49.75,368.94 L50.54,368.94 L51.33,368.94 L52.11,368.94 L52.9,368.94 L53.69,368.94 L54.48,368.94 L55.26,368.94 L56.05,368.94 L56.84,368.94 L57.62,368.93 L58.41,368.93 L59.2,368.93 L59.99,368.93 L60.78,368.92 L61.56,368.92 L62.35,368.91 L63.14,368.89 L63.92,368.87 L64.71,368.84 L65.5,368.79 L66.29,368.71 L67.08,368.6 L67.86,368.42 L68.65,368.15 L69.44,367.75 L70.22,367.17 L71.01,366.32 L71.8,365.11 L72.59,363.45 L73.38,361.22 L74.16,358.32 L74.95,354.71 L75.74,350.41 L76.53,345.48 L77.31,340.08 L78.1,334.38 L78.89,328.53 L79.68,322.7 L80.46,316.96 L81.25,311.37 L82.04,305.98 L82.83,300.78 L83.61,295.77 L84.4,290.95 L85.19,286.31 L85.97,281.86 L86.76,277.59 L87.55,273.53 L88.34,269.67 L89.12,266.04 L89.91,262.65 L90.7,259.52 L91.49,256.67 L92.28,254.13 L93.06,251.89 L93.85,249.99 L94.64,248.44 L95.43,247.25 L96.21,246.42 L97,245.97 L97.79,245.89 L98.58,246.07 L99.36,246.47 L100.15,247.08 L100.94,247.9 L101.72,248.92 L102.51,250.14 L103.3,251.55 L104.09,253.13 L104.88,254.88 L105.66,256.79 L106.45,258.84 L107.24,261.02 L108.03,263.31 L108.81,265.71 L109.6,268.2 L110.39,270.76 L111.18,273.39 L111.96,276.07 L112.75,278.78 L113.54,281.52 L114.33,284.28 L115.11,287.03 L115.9,289.78 L116.69,292.51 L117.47,295.21 L118.26,297.89 L119.05,300.52 L119.84,303.1 L120.62,305.64 L121.41,308.12 L122.2,310.54 L122.99,312.89 L123.78,315.18 L124.56,317.4 L125.35,319.56 L126.14,321.64 L126.93,323.65 L127.71,325.59 L128.5,327.47 L129.29,329.27 L130.08,331.01 L130.86,332.67 L131.65,334.28 L132.44,335.82 L133.22,337.29 L134.01,338.71 L134.8,340.06 L135.59,341.36 L136.38,342.61 L137.16,343.8 L137.95,344.94 L138.74,346.03 L139.53,347.07 L140.31,348.07 L141.1,349.02 L141.89,349.93 L142.68,350.8 L143.46,351.64 L144.25,352.43 L145.04,353.19 L145.83,353.92 L146.61,354.61 L147.4,355.27 L148.19,355.9 L148.97,356.5 L149.76,357.08 L150.55,357.62 L151.34,358.14 L152.12,358.63 L152.91,359.1 L153.7,359.55 L154.49,359.97 L155.28,360.36 L156.06,360.74 L156.85,361.09 L157.64,361.41 L158.43,361.72 L159.21,362 L160,362.25 L160.79,362.49 L161.58,362.7 L162.36,362.88 L163.15,363.04 L163.94,363.17 L164.72,363.27 L165.51,363.34 L166.3,363.38 L167.09,363.39 L167.88,363.37 L168.66,363.3 L169.45,363.2 L170.24,363.06 L171.03,362.87 L171.81,362.64 L172.6,362.37 L173.39,362.04 L174.18,361.66 L174.96,361.22 L175.75,360.73 L176.54,360.18 L177.32,359.57 L178.11,358.9 L178.9,358.16 L179.69,357.36 L180.47,356.5 L181.26,355.57 L182.05,354.58 L182.84,353.52 L183.62,352.4 L184.41,351.23 L185.2,350 L185.99,348.72 L186.78,347.39 L187.56,346.02 L188.35,344.61 L189.14,343.17 L189.93,341.71 L190.71,340.24 L191.5,338.76 L192.29,337.28 L193.07,335.82 L193.86,334.38 L194.65,332.97 L195.44,331.61 L196.22,330.31 L197.01,329.07 L197.8,327.91 L198.59,326.85 L199.38,325.88 L200.16,325.03 L200.95,324.3 L201.74,323.71 L202.53,323.25 L203.31,322.93 L204.1,322.77 L204.89,322.75 L205.68,322.95 L206.46,323.37 L207.25,324 L208.04,324.8 L208.82,325.76 L209.61,326.85 L210.4,328.04 L211.19,329.31 L211.97,330.63 L212.76,331.98 L213.55,333.35 L214.34,334.72 L215.12,336.09 L215.91,337.45 L216.7,338.79 L217.49,340.11 L218.28,341.4 L219.06,342.67 L219.85,343.9 L220.64,345.11 L221.43,346.29 L222.21,347.43 L223,348.54 L223.79,349.61 L224.57,350.66 L225.36,351.66 L226.15,352.63 L226.94,353.57 L227.72,354.47 L228.51,355.33 L229.3,356.16 L230.09,356.95 L230.88,357.71 L231.66,358.43 L232.45,359.11 L233.24,359.76 L234.03,360.37 L234.81,360.95 L235.6,361.5 L236.39,362.02 L237.18,362.5 L237.96,362.95 L238.75,363.38 L239.54,363.78 L240.32,364.15 L241.11,364.49 L241.9,364.81 L242.69,365.11 L243.47,365.38 L244.26,365.63 L245.05,365.87 L245.84,366.08 L246.62,366.28 L247.41,366.47 L248.2,366.63 L248.99,366.79 L249.78,366.93 L250.56,367.06 L251.35,367.18 L252.14,367.29 L252.93,367.38 L253.71,367.47 L254.5,367.56 L255.29,367.63 L256.08,367.7" fill="none" stroke="#1010ff" stroke-width="1.5" stroke-linejoin="round"/>
<path d="M46.6,368.94 L47.39,368.94 L48.18,368.94 L48.96,368.94 L49.75,368.94 L50.54,368.94 L51.33,368.94 L52.11,368.94 L52.9,368.94 L53.69,368.94 L54.48,368.94 L55.26,368.93 L56.05,368.93 L56.84,368.93 L57.62,368.93 L58.41,368.93 L59.2,368.93 L59.99,368.92 L60.78,368.92 L61.56,368.91 L62.35,368.9 L63.14,368.89 L63.92,368.87 L64.71,368.83 L65.5,368.78 L66.29,368.7 L67.08,368.58 L67.86,368.4 L68.65,368.12 L69.44,367.7 L70.22,367.09 L71.01,366.21 L71.8,364.96 L72.59,363.23 L73.38,360.91 L74.16,357.91 L74.95,354.16 L75.74,349.68 L76.53,344.57 L77.31,338.96 L78.1,333.03 L78.89,326.96 L79.68,320.9 L80.46,314.93 L81.25,309.14 L82.04,303.53 L82.83,298.13 L83.61,292.92 L84.4,287.92 L85.19,283.1 L85.97,278.47 L86.76,274.04 L87.55,269.82 L88.34,265.81 L89.12,262.04 L89.91,258.52 L90.7,255.27 L91.49,252.31 L92.28,249.66 L93.06,247.34 L93.85,245.37 L94.64,243.76 L95.43,242.52 L96.21,241.66 L97,241.19 L97.79,241.11 L98.58,241.3 L99.36,241.71 L100.15,242.35 L100.94,243.2 L101.72,244.26 L102.51,245.52 L103.3,246.99 L104.09,248.63 L104.88,250.45 L105.66,252.43 L106.45,254.56 L107.24,256.82 L108.03,259.21 L108.81,261.7 L109.6,264.28 L110.39,266.95 L111.18,269.68 L111.96,272.46 L112.75,275.28 L113.54,278.12 L114.33,280.98 L115.11,283.85 L115.9,286.7 L116.69,289.54 L117.47,292.35 L118.26,295.12 L119.05,297.86 L119.84,300.54 L120.62,303.18 L121.41,305.75 L122.2,308.26 L122.99,310.71 L123.78,313.09 L124.56,315.4 L125.35,317.63 L126.14,319.8 L126.93,321.89 L127.71,323.91 L128.5,325.85 L129.29,327.73 L130.08,329.53 L130.86,331.26 L131.65,332.93 L132.44,334.53 L133.22,336.06 L134.01,337.53 L134.8,338.94 L135.59,340.29 L136.38,341.58 L137.16,342.82 L137.95,344 L138.74,345.13 L139.53,346.22 L140.31,347.25 L141.1,348.24 L141.89,349.19 L142.68,350.1 L143.46,350.96 L144.25,351.79 L145.04,352.58 L145.83,353.33 L146.61,354.05 L147.4,354.74 L148.19,355.39 L148.97,356.02 L149.76,356.61 L150.55,357.18 L151.34,357.72 L152.12,358.23 L152.91,358.72 L153.7,359.18 L154.49,359.61 L155.28,360.02 L156.06,360.41 L156.85,360.78 L157.64,361.12 L158.43,361.43 L159.21,361.72 L160,361.99 L160.79,362.23 L161.58,362.45 L162.36,362.64 L163.15,362.8 L163.94,362.94 L164.72,363.04 L165.51,363.12 L166.3,363.16 L167.09,363.17 L167.88,363.14 L168.66,363.07 L169.45,362.97 L170.24,362.82 L171.03,362.63 L171.81,362.38 L172.6,362.09 L173.39,361.75 L174.18,361.36 L174.96,360.9 L175.75,360.39 L176.54,359.82 L177.32,359.18 L178.11,358.48 L178.9,357.71 L179.69,356.88 L180.47,355.98 L181.26,355.01 L182.05,353.97 L182.84,352.87 L183.62,351.71 L184.41,350.49 L185.2,349.2 L185.99,347.87 L186.78,346.48 L187.56,345.05 L188.35,343.59 L189.14,342.09 L189.93,340.57 L190.71,339.03 L191.5,337.49 L192.29,335.95 L193.07,334.42 L193.86,332.92 L194.65,331.46 L195.44,330.04 L196.22,328.68 L197.01,327.39 L197.8,326.19 L198.59,325.08 L199.38,324.07 L200.16,323.19 L200.95,322.43 L201.74,321.8 L202.53,321.32 L203.31,321 L204.1,320.82 L204.89,320.81 L205.68,321.02 L206.46,321.46 L207.25,322.11 L208.04,322.94 L208.82,323.95 L209.61,325.08 L210.4,326.32 L211.19,327.64 L211.97,329.02 L212.76,330.42 L213.55,331.85 L214.34,333.28 L215.12,334.71 L215.91,336.13 L216.7,337.52 L217.49,338.9 L218.28,340.24 L219.06,341.56 L219.85,342.85 L220.64,344.11 L221.43,345.33 L222.21,346.52 L223,347.68 L223.79,348.8 L224.57,349.89 L225.36,350.93 L226.15,351.95 L226.94,352.92 L227.72,353.86 L228.51,354.76 L229.3,355.62 L230.09,356.45 L230.88,357.23 L231.66,357.98 L232.45,358.69 L233.24,359.37 L234.03,360.01 L234.81,360.62 L235.6,361.19 L236.39,361.72 L237.18,362.23 L237.96,362.7 L238.75,363.14 L239.54,363.56 L240.32,363.94 L241.11,364.3 L241.9,364.63 L242.69,364.94 L243.47,365.23 L244.26,365.49 L245.05,365.74 L245.84,365.96 L246.62,366.17 L247.41,366.36 L248.2,366.53 L248.99,366.7 L249.78,366.84 L250.56,366.98 L251.35,367.1 L252.14,367.21 L252.93,367.32 L253.71,367.41 L254.5,367.5 L255.29,367.58 L256.08,367.65" fill="none" stroke="#a01cf0" stroke-width="1.5" stroke-linejoin="round"/>
<path d="M46.6,368.94 L47.39,368.94 L48.18,368.94 L48.96,368.94 L49.75,368.94 L50.54,368.94 L51.33,368.94 L52.11,368.94 L52.9,368.94 L53.69,368.93 L54.48,368.93 L55.26,368.93 L56.05,368.93 L56.84,368.93 L57.62,368.93 L58.41,368.93 L59.2,368.93 L59.99,368.92 L60.78,368.92 L61.56,368.91 L62.35,368.9 L63.14,368.89 L63.92,368.87 L64.71,368.83 L65.5,368.78 L66.29,368.7 L67.08,368.57 L67.86,368.38 L68.65,368.1 L69.44,367.67 L70.22,367.05 L71.01,366.15 L71.8,364.86 L72.59,363.09 L73.38,360.72 L74.16,357.63 L74.95,353.79 L75.74,349.21 L76.53,343.97 L77.31,338.22 L78.1,332.15 L78.89,325.93 L79.68,319.71 L80.46,313.6 L81.25,307.66 L82.04,301.92 L82.83,296.38 L83.61,291.05 L84.4,285.92 L85.19,280.98 L85.97,276.24 L86.76,271.71 L87.55,267.38 L88.34,263.27 L89.12,259.41 L89.91,255.8 L90.7,252.47 L91.49,249.44 L92.28,246.73 L93.06,244.35 L93.85,242.33 L94.64,240.67 L95.43,239.4 L96.21,238.53 L97,238.05 L97.79,237.96 L98.58,238.16 L99.36,238.58 L100.15,239.23 L100.94,240.1 L101.72,241.19 L102.51,242.48 L103.3,243.98 L104.09,245.67 L104.88,247.53 L105.66,249.56 L106.45,251.74 L107.24,254.06 L108.03,256.5 L108.81,259.06 L109.6,261.71 L110.39,264.44 L111.18,267.23 L111.96,270.08 L112.75,272.97 L113.54,275.89 L114.33,278.82 L115.11,281.75 L115.9,284.68 L116.69,287.58 L117.47,290.46 L118.26,293.31 L119.05,296.11 L119.84,298.86 L120.62,301.56 L121.41,304.2 L122.2,306.77 L122.99,309.28 L123.78,311.71 L124.56,314.08 L125.35,316.37 L126.14,318.59 L126.93,320.73 L127.71,322.8 L128.5,324.79 L129.29,326.71 L130.08,328.56 L130.86,330.34 L131.65,332.04 L132.44,333.68 L133.22,335.25 L134.01,336.76 L134.8,338.2 L135.59,339.58 L136.38,340.91 L137.16,342.18 L137.95,343.39 L138.74,344.55 L139.53,345.66 L140.31,346.72 L141.1,347.74 L141.89,348.71 L142.68,349.63 L143.46,350.52 L144.25,351.37 L145.04,352.18 L145.83,352.95 L146.61,353.69 L147.4,354.39 L148.19,355.06 L148.97,355.7 L149.76,356.31 L150.55,356.89 L151.34,357.44 L152.12,357.97 L152.91,358.47 L153.7,358.94 L154.49,359.39 L155.28,359.81 L156.06,360.21 L156.85,360.58 L157.64,360.93 L158.43,361.25 L159.21,361.55 L160,361.83 L160.79,362.07 L161.58,362.3 L162.36,362.49 L163.15,362.66 L163.94,362.8 L164.72,362.91 L165.51,362.99 L166.3,363.03 L167.09,363.04 L167.88,363.02 L168.66,362.95 L169.45,362.84 L170.24,362.69 L171.03,362.5 L171.81,362.26 L172.6,361.96 L173.39,361.62 L174.18,361.21 L174.96,360.75 L175.75,360.23 L176.54,359.65 L177.32,359.01 L178.11,358.29 L178.9,357.52 L179.69,356.67 L180.47,355.75 L181.26,354.77 L182.05,353.72 L182.84,352.6 L183.62,351.42 L184.41,350.18 L185.2,348.88 L185.99,347.52 L186.78,346.11 L187.56,344.66 L188.35,343.17 L189.14,341.65 L189.93,340.1 L190.71,338.54 L191.5,336.98 L192.29,335.41 L193.07,333.86 L193.86,332.34 L194.65,330.85 L195.44,329.41 L196.22,328.03 L197.01,326.72 L197.8,325.5 L198.59,324.37 L199.38,323.35 L200.16,322.45 L200.95,321.67 L201.74,321.04 L202.53,320.56 L203.31,320.22 L204.1,320.05 L204.89,320.03 L205.68,320.25 L206.46,320.69 L207.25,321.35 L208.04,322.2 L208.82,323.22 L209.61,324.37 L210.4,325.63 L211.19,326.97 L211.97,328.37 L212.76,329.8 L213.55,331.25 L214.34,332.71 L215.12,334.16 L215.91,335.6 L216.7,337.01 L217.49,338.41 L218.28,339.78 L219.06,341.12 L219.85,342.43 L220.64,343.71 L221.43,344.95 L222.21,346.16 L223,347.34 L223.79,348.47 L224.57,349.58 L225.36,350.64 L226.15,351.67 L226.94,352.66 L227.72,353.62 L228.51,354.53 L229.3,355.41 L230.09,356.24 L230.88,357.04 L231.66,357.8 L232.45,358.53 L233.24,359.22 L234.03,359.87 L234.81,360.48 L235.6,361.06 L236.39,361.61 L237.18,362.12 L237.96,362.6 L238.75,363.05 L239.54,363.47 L240.32,363.86 L241.11,364.22 L241.9,364.56 L242.69,364.88 L243.47,365.17 L244.26,365.44 L245.05,365.68 L245.84,365.91 L246.62,366.12 L247.41,366.32 L248.2,366.49 L248.99,366.66 L249.78,366.81 L250.56,366.94 L251.35,367.07 L252.14,367.18 L252.93,367.29 L253.71,367.38 L254.5,367.47 L255.29,367.55 L256.08,367.63" fill="none" stroke="#9a109a" stroke-width="1.5" stroke-linejoin="round"/>
<path d="M46.6,368.94 L47.39,368.94 L48.18,368.94 L48.96,368.94 L49.75,368.94 L50.54,368.94 L51.33,368.94 L52.11,368.94 L52.9,368.94 L53.69,368.94 L54.48,368.93 L55.26,368.93 L56.05,368.93 L56.84,368.93 L57.62,368.93 L58.41,368.93 L59.2,368.93 L59.99,368.92 L60.78,368.92 L61.56,368.91 L62.35,368.9 L63.14,368.89 L63.92,368.86 L64.71,368.83 L65.5,368.77 L66.29,368.69 L67.08,368.56 L67.86,368.37 L68.65,368.08 L69.44,367.64 L70.22,367 L71.01,366.07 L71.8,364.76 L72.59,362.94 L73.38,360.5 L74.16,357.33 L74.95,353.39 L75.74,348.68 L76.53,343.3 L77.31,337.4 L78.1,331.16 L78.89,324.78 L79.68,318.4 L80.46,312.13 L81.25,306.03 L82.04,300.13 L82.83,294.44 L83.61,288.97 L84.4,283.7 L85.19,278.63 L85.97,273.77 L86.76,269.11 L87.55,264.67 L88.34,260.45 L89.12,256.48 L89.91,252.78 L90.7,249.36 L91.49,246.25 L92.28,243.46 L93.06,241.02 L93.85,238.94 L94.64,237.25 L95.43,235.94 L96.21,235.04 L97,234.55 L97.79,234.47 L98.58,234.66 L99.36,235.1 L100.15,235.76 L100.94,236.66 L101.72,237.78 L102.51,239.11 L103.3,240.64 L104.09,242.38 L104.88,244.29 L105.66,246.37 L106.45,248.61 L107.24,250.99 L108.03,253.5 L108.81,256.12 L109.6,258.84 L110.39,261.65 L111.18,264.52 L111.96,267.44 L112.75,270.41 L113.54,273.41 L114.33,276.41 L115.11,279.42 L115.9,282.43 L116.69,285.41 L117.47,288.37 L118.26,291.29 L119.05,294.17 L119.84,296.99 L120.62,299.76 L121.41,302.47 L122.2,305.11 L122.99,307.69 L123.78,310.19 L124.56,312.62 L125.35,314.97 L126.14,317.25 L126.93,319.45 L127.71,321.57 L128.5,323.62 L129.29,325.59 L130.08,327.49 L130.86,329.31 L131.65,331.06 L132.44,332.74 L133.22,334.36 L134.01,335.9 L134.8,337.39 L135.59,338.81 L136.38,340.17 L137.16,341.47 L137.95,342.72 L138.74,343.91 L139.53,345.05 L140.31,346.14 L141.1,347.18 L141.89,348.18 L142.68,349.13 L143.46,350.04 L144.25,350.91 L145.04,351.74 L145.83,352.53 L146.61,353.29 L147.4,354.01 L148.19,354.7 L148.97,355.36 L149.76,355.99 L150.55,356.59 L151.34,357.15 L152.12,357.69 L152.91,358.21 L153.7,358.69 L154.49,359.15 L155.28,359.59 L156.06,360 L156.85,360.38 L157.64,360.74 L158.43,361.07 L159.21,361.38 L160,361.67 L160.79,361.93 L161.58,362.16 L162.36,362.36 L163.15,362.54 L163.94,362.69 L164.72,362.81 L165.51,362.89 L166.3,362.94 L167.09,362.96 L167.88,362.94 L168.66,362.88 L169.45,362.79 L170.24,362.64 L171.03,362.46 L171.81,362.22 L172.6,361.93 L173.39,361.6 L174.18,361.2 L174.96,360.75 L175.75,360.24 L176.54,359.66 L177.32,359.03 L178.11,358.33 L178.9,357.56 L179.69,356.72 L180.47,355.82 L181.26,354.84 L182.05,353.8 L182.84,352.7 L183.62,351.53 L184.41,350.3 L185.2,349.01 L185.99,347.66 L186.78,346.27 L187.56,344.83 L188.35,343.36 L189.14,341.85 L189.93,340.32 L190.71,338.77 L191.5,337.22 L192.29,335.67 L193.07,334.13 L193.86,332.62 L194.65,331.14 L195.44,329.72 L196.22,328.35 L197.01,327.05 L197.8,325.84 L198.59,324.72 L199.38,323.71 L200.16,322.81 L200.95,322.05 L201.74,321.42 L202.53,320.94 L203.31,320.61 L204.1,320.43 L204.89,320.42 L205.68,320.63 L206.46,321.07 L207.25,321.73 L208.04,322.57 L208.82,323.58 L209.61,324.73 L210.4,325.98 L211.19,327.31 L211.97,328.69 L212.76,330.12 L213.55,331.55 L214.34,333 L215.12,334.44 L215.91,335.86 L216.7,337.27 L217.49,338.65 L218.28,340.01 L219.06,341.34 L219.85,342.64 L220.64,343.91 L221.43,345.14 L222.21,346.34 L223,347.51 L223.79,348.64 L224.57,349.73 L225.36,350.79 L226.15,351.81 L226.94,352.79 L227.72,353.74 L228.51,354.65 L229.3,355.51 L230.09,356.35 L230.88,357.14 L231.66,357.89 L232.45,358.61 L233.24,359.29 L234.03,359.94 L234.81,360.55 L235.6,361.12 L236.39,361.67 L237.18,362.17 L237.96,362.65 L238.75,363.1 L239.54,363.51 L240.32,363.9 L241.11,364.26 L241.9,364.6 L242.69,364.91 L243.47,365.2 L244.26,365.47 L245.05,365.71 L245.84,365.94 L246.62,366.15 L247.41,366.34 L248.2,366.52 L248.99,366.68 L249.78,366.82 L250.56,366.96 L251.35,367.09 L252.14,367.2 L252.93,367.3 L253.71,367.4 L254.5,367.48 L255.29,367.56 L256.08,367.64" fill="none" stroke="#a80e0e" stroke-width="1.5" stroke-linejoin="round"/>
<path d="M46.6,368.94 L47.39,368.94 L48.18,368.94 L48.96,368.94 L49.75,368.94 L50.54,368.94 L51.33,368.94 L52.11,368.94 L52.9,368.94 L53.69,368.94 L54.48,368.94 L55.26,368.93 L56.05,368.93 L56.84,368.93 L57.62,368.93 L58.41,368.93 L59.2,368.93 L59.99,368.92 L60.78,368.92 L61.56,368.91 L62.35,368.9 L63.14,368.89 L63.92,368.86 L64.71,368.83 L65.5,368.77 L66.29,368.68 L67.08,368.55 L67.86,368.35 L68.65,368.05 L69.44,367.6 L70.22,366.95 L71.01,365.99 L71.8,364.64 L72.59,362.77 L73.38,360.26 L74.16,357.01 L74.95,352.96 L75.74,348.12 L76.53,342.58 L77.31,336.52 L78.1,330.11 L78.89,323.54 L79.68,316.98 L80.46,310.53 L81.25,304.26 L82.04,298.2 L82.83,292.36 L83.61,286.73 L84.4,281.31 L85.19,276.1 L85.97,271.1 L86.76,266.31 L87.55,261.74 L88.34,257.41 L89.12,253.33 L89.91,249.52 L90.7,246.01 L91.49,242.81 L92.28,239.94 L93.06,237.43 L93.85,235.3 L94.64,233.55 L95.43,232.21 L96.21,231.29 L97,230.78 L97.79,230.7 L98.58,230.9 L99.36,231.34 L100.15,232.03 L100.94,232.95 L101.72,234.1 L102.51,235.47 L103.3,237.05 L104.09,238.83 L104.88,240.79 L105.66,242.94 L106.45,245.24 L107.24,247.69 L108.03,250.27 L108.81,252.96 L109.6,255.76 L110.39,258.64 L111.18,261.59 L111.96,264.6 L112.75,267.65 L113.54,270.73 L114.33,273.82 L115.11,276.92 L115.9,280.01 L116.69,283.07 L117.47,286.11 L118.26,289.12 L119.05,292.07 L119.84,294.98 L120.62,297.83 L121.41,300.61 L122.2,303.33 L122.99,305.98 L123.78,308.55 L124.56,311.05 L125.35,313.47 L126.14,315.81 L126.93,318.07 L127.71,320.25 L128.5,322.36 L129.29,324.38 L130.08,326.33 L130.86,328.21 L131.65,330.01 L132.44,331.74 L133.22,333.4 L134.01,334.99 L134.8,336.51 L135.59,337.97 L136.38,339.37 L137.16,340.71 L137.95,341.99 L138.74,343.22 L139.53,344.39 L140.31,345.51 L141.1,346.58 L141.89,347.61 L142.68,348.59 L143.46,349.52 L144.25,350.42 L145.04,351.27 L145.83,352.09 L146.61,352.87 L147.4,353.61 L148.19,354.32 L148.97,355 L149.76,355.64 L150.55,356.26 L151.34,356.84 L152.12,357.4 L152.91,357.93 L153.7,358.43 L154.49,358.9 L155.28,359.35 L156.06,359.77 L156.85,360.17 L157.64,360.54 L158.43,360.89 L159.21,361.21 L160,361.51 L160.79,361.77 L161.58,362.02 L162.36,362.23 L163.15,362.42 L163.94,362.58 L164.72,362.7 L165.51,362.8 L166.3,362.86 L167.09,362.89 L167.88,362.88 L168.66,362.83 L169.45,362.74 L170.24,362.61 L171.03,362.44 L171.81,362.21 L172.6,361.94 L173.39,361.61 L174.18,361.23 L174.96,360.79 L175.75,360.29 L176.54,359.73 L177.32,359.11 L178.11,358.43 L178.9,357.67 L179.69,356.86 L180.47,355.97 L181.26,355.02 L182.05,354 L182.84,352.91 L183.62,351.77 L184.41,350.56 L185.2,349.29 L185.99,347.97 L186.78,346.6 L187.56,345.19 L188.35,343.74 L189.14,342.26 L189.93,340.75 L190.71,339.23 L191.5,337.71 L192.29,336.18 L193.07,334.67 L193.86,333.19 L194.65,331.74 L195.44,330.33 L196.22,328.99 L197.01,327.71 L197.8,326.52 L198.59,325.42 L199.38,324.43 L200.16,323.55 L200.95,322.8 L201.74,322.18 L202.53,321.71 L203.31,321.38 L204.1,321.21 L204.89,321.2 L205.68,321.41 L206.46,321.84 L207.25,322.49 L208.04,323.32 L208.82,324.31 L209.61,325.44 L210.4,326.67 L211.19,327.98 L211.97,329.34 L212.76,330.74 L213.55,332.16 L214.34,333.58 L215.12,334.99 L215.91,336.4 L216.7,337.78 L217.49,339.14 L218.28,340.48 L219.06,341.79 L219.85,343.07 L220.64,344.31 L221.43,345.53 L222.21,346.71 L223,347.85 L223.79,348.97 L224.57,350.04 L225.36,351.08 L226.15,352.09 L226.94,353.05 L227.72,353.98 L228.51,354.88 L229.3,355.73 L230.09,356.55 L230.88,357.33 L231.66,358.07 L232.45,358.78 L233.24,359.45 L234.03,360.09 L234.81,360.68 L235.6,361.25 L236.39,361.78 L237.18,362.28 L237.96,362.75 L238.75,363.19 L239.54,363.6 L240.32,363.98 L241.11,364.34 L241.9,364.67 L242.69,364.98 L243.47,365.26 L244.26,365.52 L245.05,365.76 L245.84,365.99 L246.62,366.19 L247.41,366.38 L248.2,366.55 L248.99,366.71 L249.78,366.86 L250.56,366.99 L251.35,367.12 L252.14,367.23 L252.93,367.33 L253.71,367.42 L254.5,367.51 L255.29,367.59 L256.08,367.66" fill="none" stroke="#8c8c00" stroke-width="1.5" stroke-linejoin="round"/>
<rect x="110.8" y="214.8" width="145" height="46.5" fill="#fff"/>
<rect x="111.9" y="215.6" width="17.4" height="44.9" fill="url(#gc0)"/>
<rect x="130.8" y="215.6" width="16.1" height="44.9" fill="url(#gc1)"/>
<rect x="148.3" y="215.6" width="16" height="44.9" fill="url(#gc2)"/>
<rect x="165.7" y="215.6" width="17.4" height="44.9" fill="url(#gc3)"/>
<rect x="185" y="215.6" width="16.3" height="44.9" fill="url(#gc4)"/>
<rect x="202.7" y="215.6" width="15.9" height="44.9" fill="url(#gc5)"/>
<mask id="m6"><rect x="202.7" y="215.6" width="15.9" height="44.9" fill="url(#vfade)"/></mask>
<rect x="203.7" y="215.6" width="13.9" height="44.9" fill="url(#stripe)" mask="url(#m6)"/>
<rect x="220.4" y="215.6" width="16.1" height="44.9" fill="url(#gc6)"/>
<rect x="238.4" y="215.6" width="16.4" height="44.9" fill="url(#gc7)"/>
<rect x="46.6" y="213.5" width="210" height="155.5" fill="none" stroke="#000" stroke-width="1.3"/>
<line x1="46.6" y1="369.0" x2="46.6" y2="371.2" stroke="#000" stroke-width="1.2"/>
<line x1="72.85" y1="369.0" x2="72.85" y2="372.5" stroke="#000" stroke-width="1.2"/>
<text x="72.85" y="381.3" font-size="8" text-anchor="middle">400</text>
<line x1="99.1" y1="369.0" x2="99.1" y2="371.2" stroke="#000" stroke-width="1.2"/>
<line x1="125.35" y1="369.0" x2="125.35" y2="372.5" stroke="#000" stroke-width="1.2"/>
<text x="125.35" y="381.3" font-size="8" text-anchor="middle">500</text>
<line x1="151.6" y1="369.0" x2="151.6" y2="371.2" stroke="#000" stroke-width="1.2"/>
<line x1="177.85" y1="369.0" x2="177.85" y2="372.5" stroke="#000" stroke-width="1.2"/>
<text x="177.85" y="381.3" font-size="8" text-anchor="middle">600</text>
<line x1="204.1" y1="369.0" x2="204.1" y2="371.2" stroke="#000" stroke-width="1.2"/>
<line x1="230.35" y1="369.0" x2="230.35" y2="372.5" stroke="#000" stroke-width="1.2"/>
<text x="230.35" y="381.3" font-size="8" text-anchor="middle">700</text>
<line x1="256.6" y1="369.0" x2="256.6" y2="371.2" stroke="#000" stroke-width="1.2"/>
<line x1="43.1" y1="369" x2="46.6" y2="369" stroke="#000" stroke-width="1.2"/>
<text x="41" y="371.9" font-size="8" text-anchor="end">0</text>
<line x1="44.4" y1="349.56" x2="46.6" y2="349.56" stroke="#000" stroke-width="1.2"/>
<line x1="43.1" y1="330.12" x2="46.6" y2="330.12" stroke="#000" stroke-width="1.2"/>
<text x="41" y="333.02" font-size="8" text-anchor="end">1000</text>
<line x1="44.4" y1="310.69" x2="46.6" y2="310.69" stroke="#000" stroke-width="1.2"/>
<line x1="43.1" y1="291.25" x2="46.6" y2="291.25" stroke="#000" stroke-width="1.2"/>
<text x="41" y="294.15" font-size="8" text-anchor="end">2000</text>
<line x1="44.4" y1="271.81" x2="46.6" y2="271.81" stroke="#000" stroke-width="1.2"/>
<line x1="43.1" y1="252.38" x2="46.6" y2="252.38" stroke="#000" stroke-width="1.2"/>
<text x="41" y="255.28" font-size="8" text-anchor="end">3000</text>
<line x1="44.4" y1="232.94" x2="46.6" y2="232.94" stroke="#000" stroke-width="1.2"/>
<line x1="43.1" y1="213.5" x2="46.6" y2="213.5" stroke="#000" stroke-width="1.2"/>
<text x="41" y="216.4" font-size="8" text-anchor="end">4000</text>
<text x="151.9" y="395.2" font-size="12" text-anchor="middle">Wavelength (nm)</text>
<text transform="translate(18.9,290.5) rotate(-90)" font-size="12.3" text-anchor="middle">FL intensity (a.u.)</text>
<text x="158.2" y="287.6" font-size="12.6" text-anchor="middle">0 µM</text>
<line x1="158.2" y1="292.1" x2="158.2" y2="321.7" stroke="#000" stroke-width="1.2"/>
<path d="M155.6,318.2 L160.8,318.2 L158.2,323.2 Z" fill="#000"/>
<text x="158.2" y="336.2" font-size="12.6" text-anchor="middle">140 µM</text>
<line x1="340.7" y1="163.43" x2="536.5" y2="46.23" stroke="#ff0000" stroke-width="1.5"/>
<line x1="340.7" y1="153.67" x2="340.7" y2="167.73" stroke="#000" stroke-width="1.2"/>
<line x1="338.7" y1="153.67" x2="342.7" y2="153.67" stroke="#000" stroke-width="1.2"/>
<line x1="338.7" y1="167.73" x2="342.7" y2="167.73" stroke="#000" stroke-width="1.2"/>
<rect x="338.7" y="158.6" width="4" height="4.2" rx="1.3" fill="#000"/>
<line x1="368.67" y1="138.96" x2="368.67" y2="153.02" stroke="#000" stroke-width="1.2"/>
<line x1="366.67" y1="138.96" x2="370.67" y2="138.96" stroke="#000" stroke-width="1.2"/>
<line x1="366.67" y1="153.02" x2="370.67" y2="153.02" stroke="#000" stroke-width="1.2"/>
<rect x="366.67" y="143.89" width="4" height="4.2" rx="1.3" fill="#000"/>
<line x1="396.64" y1="125.42" x2="396.64" y2="139.48" stroke="#000" stroke-width="1.2"/>
<line x1="394.64" y1="125.42" x2="398.64" y2="125.42" stroke="#000" stroke-width="1.2"/>
<line x1="394.64" y1="139.48" x2="398.64" y2="139.48" stroke="#000" stroke-width="1.2"/>
<rect x="394.64" y="130.35" width="4" height="4.2" rx="1.3" fill="#000"/>
<line x1="424.62" y1="108.36" x2="424.62" y2="122.42" stroke="#000" stroke-width="1.2"/>
<line x1="422.62" y1="108.36" x2="426.62" y2="108.36" stroke="#000" stroke-width="1.2"/>
<line x1="422.62" y1="122.42" x2="426.62" y2="122.42" stroke="#000" stroke-width="1.2"/>
<rect x="422.62" y="113.29" width="4" height="4.2" rx="1.3" fill="#000"/>
<line x1="452.59" y1="91.95" x2="452.59" y2="106.02" stroke="#000" stroke-width="1.2"/>
<line x1="450.59" y1="91.95" x2="454.59" y2="91.95" stroke="#000" stroke-width="1.2"/>
<line x1="450.59" y1="106.02" x2="454.59" y2="106.02" stroke="#000" stroke-width="1.2"/>
<rect x="450.59" y="96.89" width="4" height="4.2" rx="1.3" fill="#000"/>
<line x1="480.56" y1="74.64" x2="480.56" y2="88.7" stroke="#000" stroke-width="1.2"/>
<line x1="478.56" y1="74.64" x2="482.56" y2="74.64" stroke="#000" stroke-width="1.2"/>
<line x1="478.56" y1="88.7" x2="482.56" y2="88.7" stroke="#000" stroke-width="1.2"/>
<rect x="478.56" y="79.57" width="4" height="4.2" rx="1.3" fill="#000"/>
<line x1="508.53" y1="53.02" x2="508.53" y2="67.09" stroke="#000" stroke-width="1.2"/>
<line x1="506.53" y1="53.02" x2="510.53" y2="53.02" stroke="#000" stroke-width="1.2"/>
<line x1="506.53" y1="67.09" x2="510.53" y2="67.09" stroke="#000" stroke-width="1.2"/>
<rect x="506.53" y="57.96" width="4" height="4.2" rx="1.3" fill="#000"/>
<line x1="536.5" y1="26.33" x2="536.5" y2="47.95" stroke="#000" stroke-width="1.2"/>
<line x1="534.5" y1="26.33" x2="538.5" y2="26.33" stroke="#000" stroke-width="1.2"/>
<line x1="534.5" y1="47.95" x2="538.5" y2="47.95" stroke="#000" stroke-width="1.2"/>
<rect x="534.5" y="35.04" width="4" height="4.2" rx="1.3" fill="#000"/>
<rect x="333.7" y="17.6" width="210.2" height="155.9" fill="none" stroke="#000" stroke-width="1.3"/>
<line x1="340.7" y1="173.5" x2="340.7" y2="177" stroke="#000" stroke-width="1.2"/>
<text x="340.7" y="185.5" font-size="8" text-anchor="middle">0</text>
<line x1="354.69" y1="173.5" x2="354.69" y2="175.7" stroke="#000" stroke-width="1.2"/>
<line x1="368.67" y1="173.5" x2="368.67" y2="177" stroke="#000" stroke-width="1.2"/>
<text x="368.67" y="185.5" font-size="8" text-anchor="middle">20</text>
<line x1="382.66" y1="173.5" x2="382.66" y2="175.7" stroke="#000" stroke-width="1.2"/>
<line x1="396.64" y1="173.5" x2="396.64" y2="177" stroke="#000" stroke-width="1.2"/>
<text x="396.64" y="185.5" font-size="8" text-anchor="middle">40</text>
<line x1="410.63" y1="173.5" x2="410.63" y2="175.7" stroke="#000" stroke-width="1.2"/>
<line x1="424.62" y1="173.5" x2="424.62" y2="177" stroke="#000" stroke-width="1.2"/>
<text x="424.62" y="185.5" font-size="8" text-anchor="middle">60</text>
<line x1="438.6" y1="173.5" x2="438.6" y2="175.7" stroke="#000" stroke-width="1.2"/>
<line x1="452.59" y1="173.5" x2="452.59" y2="177" stroke="#000" stroke-width="1.2"/>
<text x="452.59" y="185.5" font-size="8" text-anchor="middle">80</text>
<line x1="466.57" y1="173.5" x2="466.57" y2="175.7" stroke="#000" stroke-width="1.2"/>
<line x1="480.56" y1="173.5" x2="480.56" y2="177" stroke="#000" stroke-width="1.2"/>
<text x="480.56" y="185.5" font-size="8" text-anchor="middle">100</text>
<line x1="494.55" y1="173.5" x2="494.55" y2="175.7" stroke="#000" stroke-width="1.2"/>
<line x1="508.53" y1="173.5" x2="508.53" y2="177" stroke="#000" stroke-width="1.2"/>
<text x="508.53" y="185.5" font-size="8" text-anchor="middle">120</text>
<line x1="522.52" y1="173.5" x2="522.52" y2="175.7" stroke="#000" stroke-width="1.2"/>
<line x1="536.5" y1="173.5" x2="536.5" y2="177" stroke="#000" stroke-width="1.2"/>
<text x="536.5" y="185.5" font-size="8" text-anchor="middle">140</text>
<line x1="330.2" y1="160.7" x2="333.7" y2="160.7" stroke="#000" stroke-width="1.2"/>
<text x="328.2" y="163.6" font-size="8" text-anchor="end">0.0</text>
<line x1="330.2" y1="121.64" x2="333.7" y2="121.64" stroke="#000" stroke-width="1.2"/>
<text x="328.2" y="124.54" font-size="8" text-anchor="end">0.3</text>
<line x1="330.2" y1="82.58" x2="333.7" y2="82.58" stroke="#000" stroke-width="1.2"/>
<text x="328.2" y="85.48" font-size="8" text-anchor="end">0.6</text>
<line x1="330.2" y1="43.52" x2="333.7" y2="43.52" stroke="#000" stroke-width="1.2"/>
<text x="328.2" y="46.42" font-size="8" text-anchor="end">0.9</text>
<line x1="331.5" y1="141.17" x2="333.7" y2="141.17" stroke="#000" stroke-width="1.2"/>
<line x1="331.5" y1="102.11" x2="333.7" y2="102.11" stroke="#000" stroke-width="1.2"/>
<line x1="331.5" y1="63.05" x2="333.7" y2="63.05" stroke="#000" stroke-width="1.2"/>
<line x1="331.5" y1="23.99" x2="333.7" y2="23.99" stroke="#000" stroke-width="1.2"/>
<text x="438.9" y="203.9" font-size="11.8" text-anchor="middle"><tspan font-style="italic">C</tspan><tspan font-size="7.6" dy="4.3">TC</tspan><tspan dy="-4.3" dx="0.6"> (µM)</tspan></text>
<text transform="translate(308.0,103.6) rotate(-90)" font-size="11.6" text-anchor="middle">Log[(I<tspan font-size="8" dy="3">447</tspan><tspan dy="-3">/I</tspan><tspan font-size="8" dy="3">651</tspan><tspan dy="-3">)</tspan><tspan font-size="8" dy="3">0</tspan><tspan dy="-3">/(I</tspan><tspan font-size="8" dy="3">447</tspan><tspan dy="-3">/ I</tspan><tspan font-size="8" dy="3">651</tspan><tspan dy="-3">)]</tspan></text>
<line x1="340.7" y1="359" x2="536.5" y2="230.79" stroke="#ff0000" stroke-width="1.5"/>
<line x1="340.7" y1="353.81" x2="340.7" y2="364.19" stroke="#000" stroke-width="1.2"/>
<line x1="338.7" y1="353.81" x2="342.7" y2="353.81" stroke="#000" stroke-width="1.2"/>
<line x1="338.7" y1="364.19" x2="342.7" y2="364.19" stroke="#000" stroke-width="1.2"/>
<rect x="338.7" y="356.9" width="4" height="4.2" rx="1.3" fill="#000"/>
<line x1="368.67" y1="337.71" x2="368.67" y2="348.1" stroke="#000" stroke-width="1.2"/>
<line x1="366.67" y1="337.71" x2="370.67" y2="337.71" stroke="#000" stroke-width="1.2"/>
<line x1="366.67" y1="348.1" x2="370.67" y2="348.1" stroke="#000" stroke-width="1.2"/>
<rect x="366.67" y="340.81" width="4" height="4.2" rx="1.3" fill="#000"/>
<line x1="396.64" y1="315.29" x2="396.64" y2="325.67" stroke="#000" stroke-width="1.2"/>
<line x1="394.64" y1="315.29" x2="398.64" y2="315.29" stroke="#000" stroke-width="1.2"/>
<line x1="394.64" y1="325.67" x2="398.64" y2="325.67" stroke="#000" stroke-width="1.2"/>
<rect x="394.64" y="318.38" width="4" height="4.2" rx="1.3" fill="#000"/>
<line x1="424.62" y1="301.48" x2="424.62" y2="311.86" stroke="#000" stroke-width="1.2"/>
<line x1="422.62" y1="301.48" x2="426.62" y2="301.48" stroke="#000" stroke-width="1.2"/>
<line x1="422.62" y1="311.86" x2="426.62" y2="311.86" stroke="#000" stroke-width="1.2"/>
<rect x="422.62" y="304.57" width="4" height="4.2" rx="1.3" fill="#000"/>
<line x1="452.59" y1="283.2" x2="452.59" y2="293.59" stroke="#000" stroke-width="1.2"/>
<line x1="450.59" y1="283.2" x2="454.59" y2="283.2" stroke="#000" stroke-width="1.2"/>
<line x1="450.59" y1="293.59" x2="454.59" y2="293.59" stroke="#000" stroke-width="1.2"/>
<rect x="450.59" y="286.3" width="4" height="4.2" rx="1.3" fill="#000"/>
<line x1="480.56" y1="262.13" x2="480.56" y2="272.51" stroke="#000" stroke-width="1.2"/>
<line x1="478.56" y1="262.13" x2="482.56" y2="262.13" stroke="#000" stroke-width="1.2"/>
<line x1="478.56" y1="272.51" x2="482.56" y2="272.51" stroke="#000" stroke-width="1.2"/>
<rect x="478.56" y="265.22" width="4" height="4.2" rx="1.3" fill="#000"/>
<line x1="508.53" y1="242.71" x2="508.53" y2="253.09" stroke="#000" stroke-width="1.2"/>
<line x1="506.53" y1="242.71" x2="510.53" y2="242.71" stroke="#000" stroke-width="1.2"/>
<line x1="506.53" y1="253.09" x2="510.53" y2="253.09" stroke="#000" stroke-width="1.2"/>
<rect x="506.53" y="245.8" width="4" height="4.2" rx="1.3" fill="#000"/>
<line x1="536.5" y1="225.79" x2="536.5" y2="236.17" stroke="#000" stroke-width="1.2"/>
<line x1="534.5" y1="225.79" x2="538.5" y2="225.79" stroke="#000" stroke-width="1.2"/>
<line x1="534.5" y1="236.17" x2="538.5" y2="236.17" stroke="#000" stroke-width="1.2"/>
<rect x="534.5" y="228.88" width="4" height="4.2" rx="1.3" fill="#000"/>
<rect x="333.7" y="213.4" width="210.2" height="155.5" fill="none" stroke="#000" stroke-width="1.3"/>
<line x1="340.7" y1="368.9" x2="340.7" y2="372.4" stroke="#000" stroke-width="1.2"/>
<text x="340.7" y="380.9" font-size="8" text-anchor="middle">0</text>
<line x1="354.69" y1="368.9" x2="354.69" y2="371.1" stroke="#000" stroke-width="1.2"/>
<line x1="368.67" y1="368.9" x2="368.67" y2="372.4" stroke="#000" stroke-width="1.2"/>
<text x="368.67" y="380.9" font-size="8" text-anchor="middle">20</text>
<line x1="382.66" y1="368.9" x2="382.66" y2="371.1" stroke="#000" stroke-width="1.2"/>
<line x1="396.64" y1="368.9" x2="396.64" y2="372.4" stroke="#000" stroke-width="1.2"/>
<text x="396.64" y="380.9" font-size="8" text-anchor="middle">40</text>
<line x1="410.63" y1="368.9" x2="410.63" y2="371.1" stroke="#000" stroke-width="1.2"/>
<line x1="424.62" y1="368.9" x2="424.62" y2="372.4" stroke="#000" stroke-width="1.2"/>
<text x="424.62" y="380.9" font-size="8" text-anchor="middle">60</text>
<line x1="438.6" y1="368.9" x2="438.6" y2="371.1" stroke="#000" stroke-width="1.2"/>
<line x1="452.59" y1="368.9" x2="452.59" y2="372.4" stroke="#000" stroke-width="1.2"/>
<text x="452.59" y="380.9" font-size="8" text-anchor="middle">80</text>
<line x1="466.57" y1="368.9" x2="466.57" y2="371.1" stroke="#000" stroke-width="1.2"/>
<line x1="480.56" y1="368.9" x2="480.56" y2="372.4" stroke="#000" stroke-width="1.2"/>
<text x="480.56" y="380.9" font-size="8" text-anchor="middle">100</text>
<line x1="494.55" y1="368.9" x2="494.55" y2="371.1" stroke="#000" stroke-width="1.2"/>
<line x1="508.53" y1="368.9" x2="508.53" y2="372.4" stroke="#000" stroke-width="1.2"/>
<text x="508.53" y="380.9" font-size="8" text-anchor="middle">120</text>
<line x1="522.52" y1="368.9" x2="522.52" y2="371.1" stroke="#000" stroke-width="1.2"/>
<line x1="536.5" y1="368.9" x2="536.5" y2="372.4" stroke="#000" stroke-width="1.2"/>
<text x="536.5" y="380.9" font-size="8" text-anchor="middle">140</text>
<line x1="330.2" y1="359" x2="333.7" y2="359" stroke="#000" stroke-width="1.2"/>
<text x="328.2" y="361.9" font-size="8" text-anchor="end">0.00</text>
<line x1="330.2" y1="327.85" x2="333.7" y2="327.85" stroke="#000" stroke-width="1.2"/>
<text x="328.2" y="330.75" font-size="8" text-anchor="end">0.03</text>
<line x1="330.2" y1="296.7" x2="333.7" y2="296.7" stroke="#000" stroke-width="1.2"/>
<text x="328.2" y="299.6" font-size="8" text-anchor="end">0.06</text>
<line x1="330.2" y1="265.55" x2="333.7" y2="265.55" stroke="#000" stroke-width="1.2"/>
<text x="328.2" y="268.45" font-size="8" text-anchor="end">0.09</text>
<line x1="330.2" y1="234.4" x2="333.7" y2="234.4" stroke="#000" stroke-width="1.2"/>
<text x="328.2" y="237.3" font-size="8" text-anchor="end">0.12</text>
<line x1="331.5" y1="343.43" x2="333.7" y2="343.43" stroke="#000" stroke-width="1.2"/>
<line x1="331.5" y1="312.28" x2="333.7" y2="312.28" stroke="#000" stroke-width="1.2"/>
<line x1="331.5" y1="281.13" x2="333.7" y2="281.13" stroke="#000" stroke-width="1.2"/>
<line x1="331.5" y1="249.98" x2="333.7" y2="249.98" stroke="#000" stroke-width="1.2"/>
<line x1="331.5" y1="218.83" x2="333.7" y2="218.83" stroke="#000" stroke-width="1.2"/>
<text x="438.9" y="395.5" font-size="11.8" text-anchor="middle"><tspan font-style="italic">C</tspan><tspan font-size="7.6" dy="4.3">TC</tspan><tspan dy="-4.3" dx="0.6"> (µM)</tspan></text>
<text transform="translate(305.7,293.7) rotate(-90)" font-size="11.2" text-anchor="middle">Log[(I<tspan font-size="8" dy="3">447</tspan><tspan dy="-3">/I</tspan><tspan font-size="8" dy="3">651</tspan><tspan dy="-3">)</tspan><tspan font-size="8" dy="3">0</tspan><tspan dy="-3">/(I</tspan><tspan font-size="8" dy="3">447</tspan><tspan dy="-3">/I</tspan><tspan font-size="8" dy="3">651</tspan><tspan dy="-3">)]</tspan></text>
<text x="7" y="17.8" font-size="25">a</text>
<text x="293.5" y="22.2" font-size="24">b</text>
<text x="7" y="213.5" font-size="25">c</text>
<text x="293.5" y="213.5" font-size="24">d</text>
</svg></body></html>
